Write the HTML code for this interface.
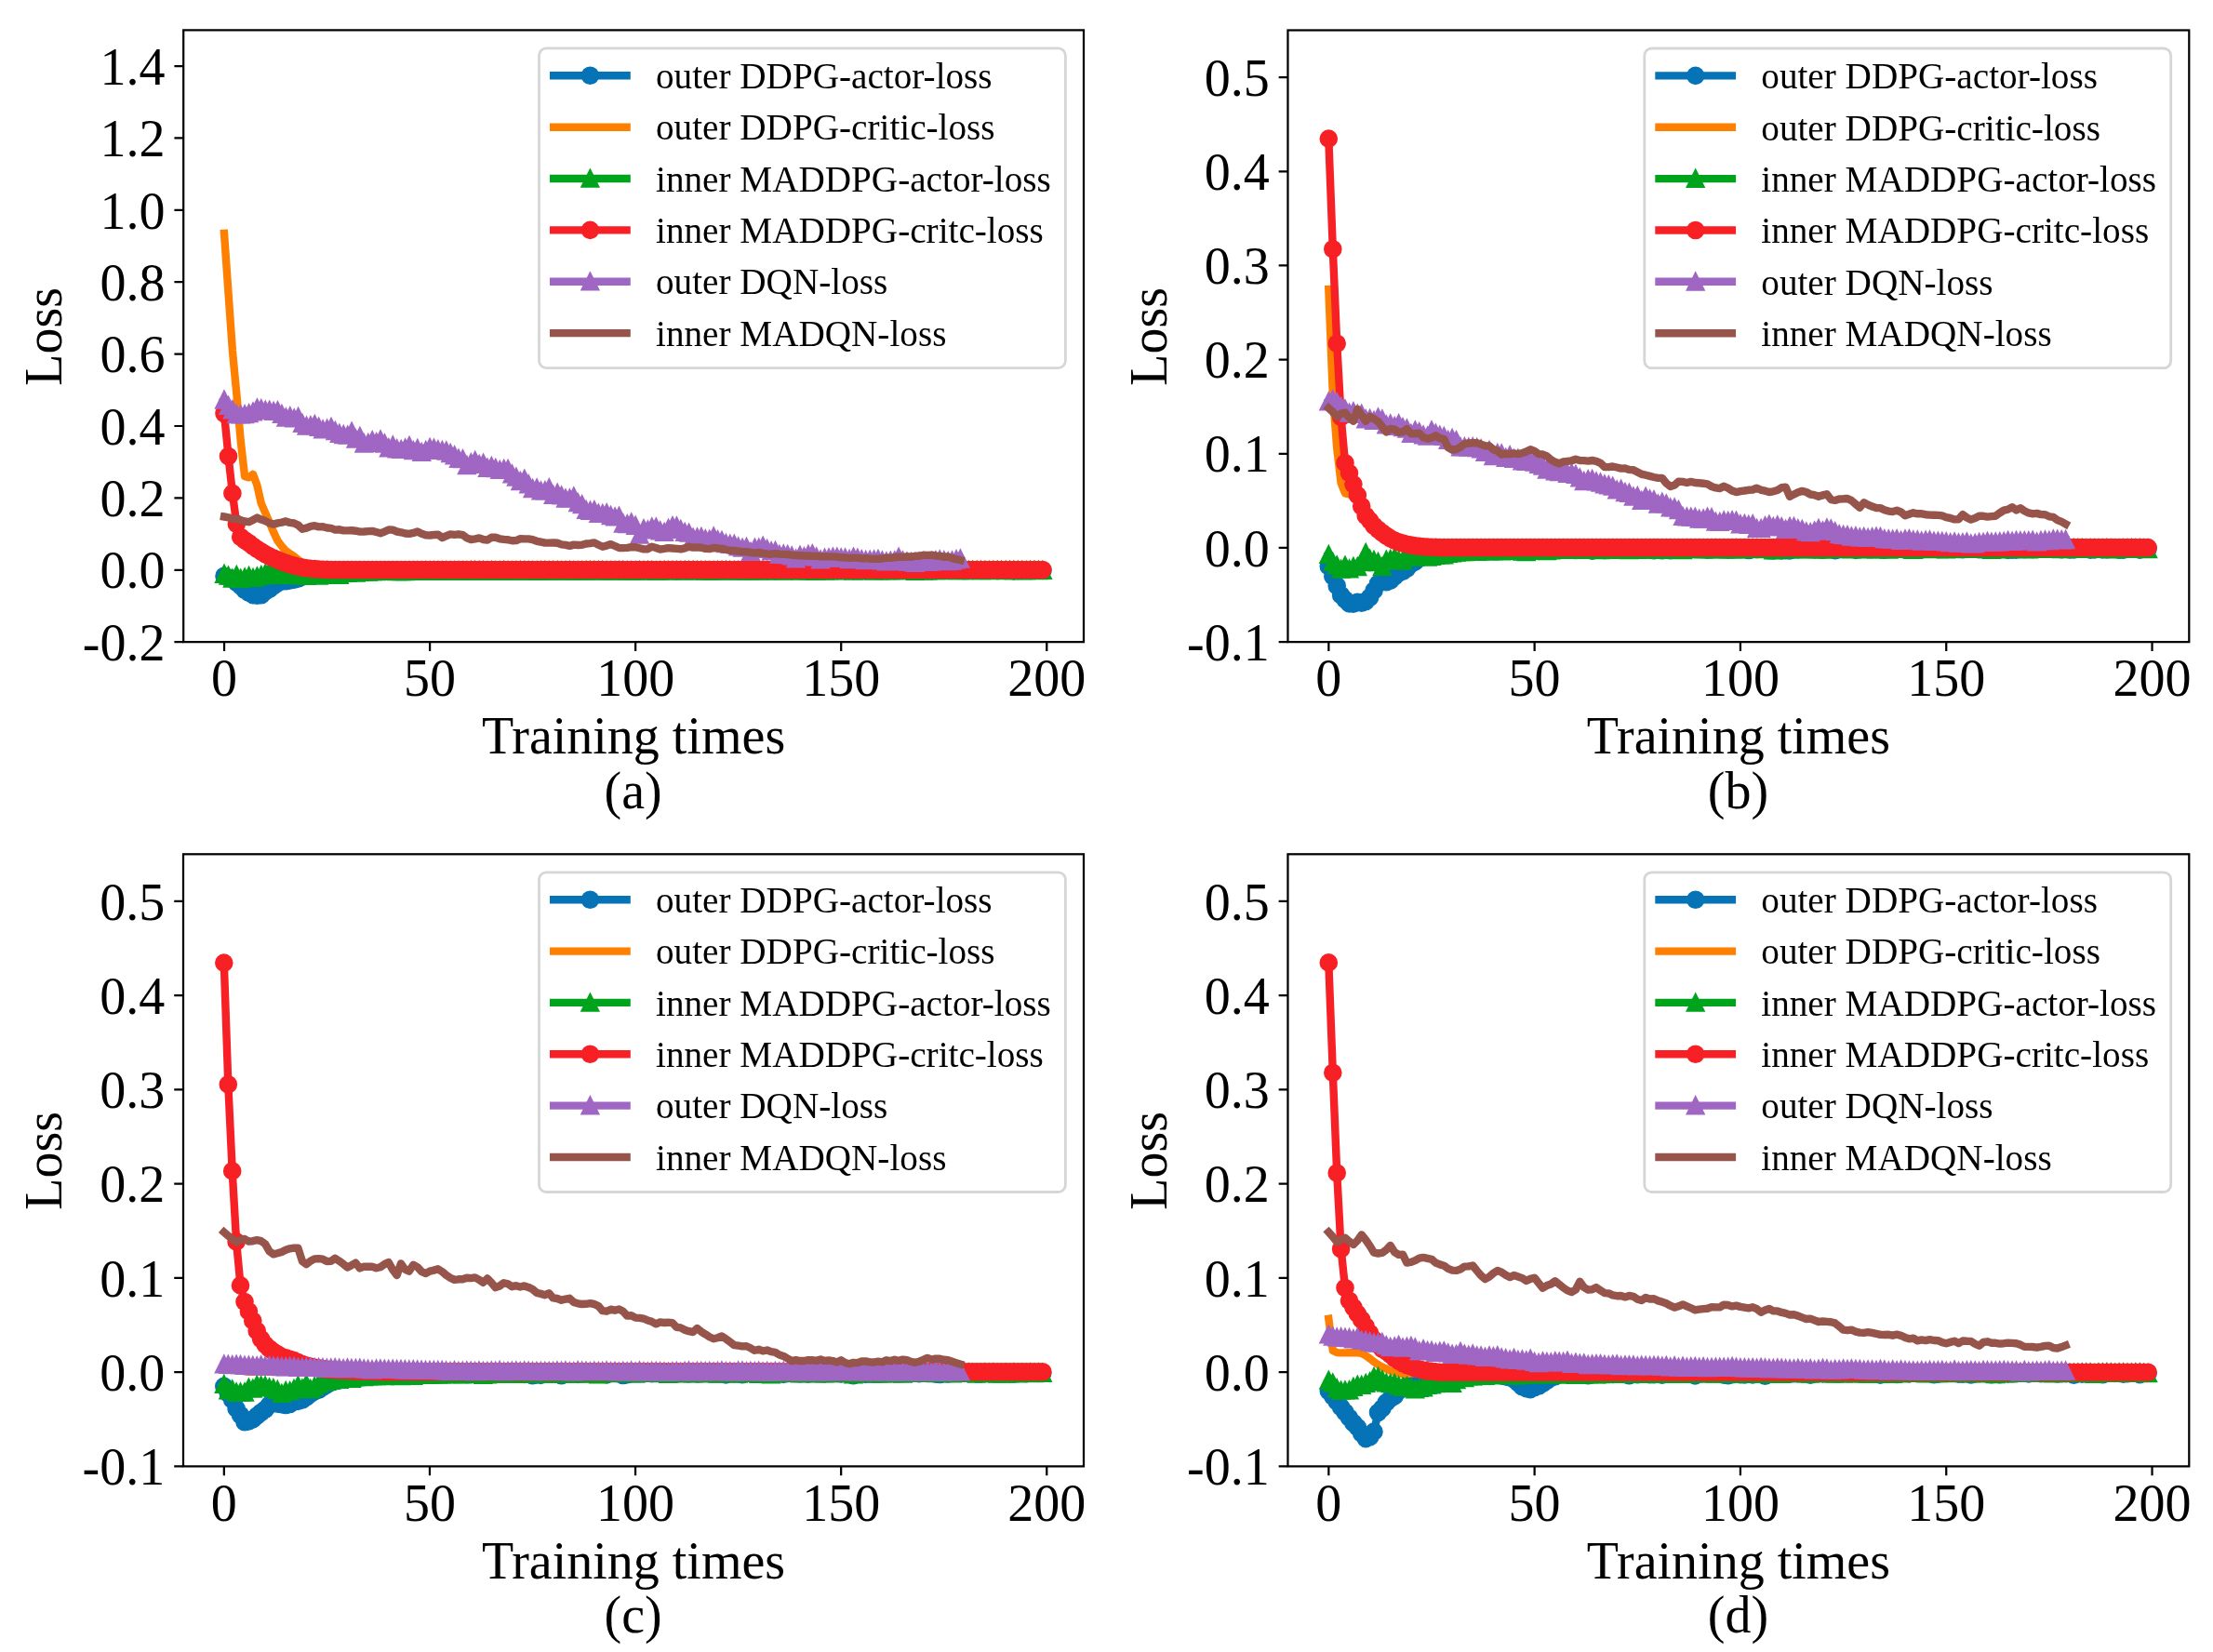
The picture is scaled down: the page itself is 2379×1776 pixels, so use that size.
<!DOCTYPE html>
<html lang="en"><head><meta charset="utf-8"><title>Loss curves</title>
<style>html,body{margin:0;padding:0;background:#fff}body{width:2379px;height:1776px;overflow:hidden}svg{display:block;filter:blur(0.5px)}text{font-family:"Liberation Serif",serif;fill:#000}</style></head><body>
<svg width="2379" height="1776" viewBox="0 0 2379 1776">
<rect width="2379" height="1776" fill="#fff"/>
<defs>
<marker id="m-blue" markerUnits="userSpaceOnUse" markerWidth="30" markerHeight="30" refX="15" refY="15" overflow="visible"><circle cx="15" cy="15" r="8.40" fill="#0573b6" stroke="#0573b6" stroke-width="2.80"/></marker>
<marker id="m-green" markerUnits="userSpaceOnUse" markerWidth="30" markerHeight="30" refX="15" refY="15" overflow="visible"><polygon points="15,6.60 6.60,23.40 23.40,23.40" fill="#00a41c" stroke="#00a41c" stroke-width="2.80" stroke-linejoin="miter"/></marker>
<marker id="m-red" markerUnits="userSpaceOnUse" markerWidth="30" markerHeight="30" refX="15" refY="15" overflow="visible"><circle cx="15" cy="15" r="8.40" fill="#f72024" stroke="#f72024" stroke-width="2.80"/></marker>
<marker id="m-purple" markerUnits="userSpaceOnUse" markerWidth="30" markerHeight="30" refX="15" refY="15" overflow="visible"><polygon points="15,6.60 6.60,23.40 23.40,23.40" fill="#a066c3" stroke="#a066c3" stroke-width="2.80" stroke-linejoin="miter"/></marker>
</defs>
<g id="panel-a">
<polyline points="241.0,619.2 245.5,621.1 249.9,622.4 254.3,626.3 258.7,629.7 263.1,634.3 267.6,637.3 272.0,639.6 276.4,640.3 280.8,639.8 285.3,635.9 289.7,633.3 294.1,629.7 298.5,626.9 302.9,624.9 307.4,624.7 311.8,623.9 316.2,623.3 320.6,622.0 325.0,620.1 329.5,618.2 333.9,617.1 338.3,616.7 342.7,616.3 347.1,615.7 351.6,615.8 356.0,615.4 360.4,615.3 364.8,614.9 369.3,614.5 373.7,614.5 378.1,614.3 382.5,614.3 386.9,614.3 391.4,614.2 395.8,613.9 400.2,614.1 404.6,613.8 409.0,614.0 413.5,613.8 417.9,613.6 422.3,613.7 426.7,613.7 431.2,613.9 435.6,613.5 440.0,613.7 444.4,613.6 448.8,614.0 453.3,613.5 457.7,613.6 462.1,613.6 466.5,613.6 470.9,613.8 475.4,613.6 479.8,613.6 484.2,613.6 488.6,613.7 493.0,613.7 497.5,613.6 501.9,613.7 506.3,613.7 510.7,613.8 515.2,613.6 519.6,613.5 524.0,613.6 528.4,613.5 532.8,613.7 537.3,613.8 541.7,613.9 546.1,613.8 550.5,613.8 554.9,613.6 559.4,613.5 563.8,613.6 568.2,613.5 572.6,613.9 577.1,613.5 581.5,613.6 585.9,613.5 590.3,613.6 594.7,613.5 599.2,613.5 603.6,613.5 608.0,613.5 612.4,613.5 616.8,613.5 621.3,613.6 625.7,613.5 630.1,613.5 634.5,613.7 638.9,613.7 643.4,613.5 647.8,613.5 652.2,613.5 656.6,613.5 661.1,613.4 665.5,613.5 669.9,613.4 674.3,613.5 678.7,613.5 683.2,613.5 687.6,613.6 692.0,613.5 696.4,613.5 700.8,613.6 705.3,613.4 709.7,613.5 714.1,613.6 718.5,613.4 723.0,613.4 727.4,613.7 731.8,613.4 736.2,613.5 740.6,613.5 745.1,613.4 749.5,613.6 753.9,613.4 758.3,613.7 762.7,613.6 767.2,613.4 771.6,613.4 776.0,613.5 780.4,613.6 784.8,613.8 789.3,613.7 793.7,613.6 798.1,613.7 802.5,613.4 807.0,613.6 811.4,613.5 815.8,613.4 820.2,613.4 824.6,613.6 829.1,613.4 833.5,613.5 837.9,613.4 842.3,613.4 846.7,613.5 851.2,613.5 855.6,613.3 860.0,613.3 864.4,613.3 868.9,613.5 873.3,613.4 877.7,613.4 882.1,613.3 886.5,613.3 891.0,613.4 895.4,613.3 899.8,613.4 904.2,613.3 908.6,613.8 913.1,613.5 917.5,613.7 921.9,613.4 926.3,613.3 930.7,613.3 935.2,613.3 939.6,613.3 944.0,613.5 948.4,613.4 952.9,613.5 957.3,613.3 961.7,613.3 966.1,613.3 970.5,613.3 975.0,613.4 979.4,613.3 983.8,613.7 988.2,613.6 992.6,613.4 997.1,613.4 1001.5,613.7 1005.9,613.3 1010.3,613.2 1014.8,613.3 1019.2,613.5 1023.6,613.3 1028.0,613.3 1032.4,613.3 1036.9,613.5 1041.3,613.3 1045.7,613.3 1050.1,613.5 1054.5,613.2 1059.0,613.3 1063.4,613.3 1067.8,613.2 1072.2,613.2 1076.6,613.2 1081.1,613.4 1085.5,613.3 1089.9,613.6 1094.3,613.4 1098.8,613.3 1103.2,613.5 1107.6,613.3 1112.0,613.2 1116.4,613.3 1120.9,613.4" fill="none" stroke="#0573b6" stroke-width="8.40" stroke-linecap="square" stroke-linejoin="round" marker-start="url(#m-blue)" marker-mid="url(#m-blue)" marker-end="url(#m-blue)"/>
<polyline points="241.0,251.0 245.5,314.8 249.9,376.8 254.3,423.2 258.7,473.5 263.1,512.2 267.6,513.3 272.0,509.8 276.4,521.8 280.8,541.2 285.3,551.6 289.7,561.7 294.1,572.1 298.5,581.4 302.9,587.2 307.4,592.3 311.8,595.4 316.2,598.1 320.6,601.9 325.0,605.4 329.5,608.1 333.9,609.7 338.3,610.8 342.7,611.6 347.1,612.0 351.6,612.4 356.0,612.7 360.4,612.7 364.8,612.7 369.3,612.7 373.7,612.7 378.1,612.7 382.5,612.7 386.9,612.7 391.4,612.7 395.8,612.7 400.2,612.7 404.6,612.7 409.0,612.7 413.5,612.7 417.9,612.7 422.3,612.7 426.7,612.7 431.2,612.7 435.6,612.7 440.0,612.7 444.4,612.7 448.8,612.7 453.3,612.7 457.7,612.7 462.1,612.7 466.5,612.7 470.9,612.7 475.4,612.7 479.8,612.7 484.2,612.7 488.6,612.7 493.0,612.7 497.5,612.7 501.9,612.7 506.3,612.7 510.7,612.7 515.2,612.7 519.6,612.7 524.0,612.7 528.4,612.7 532.8,612.7 537.3,612.7 541.7,612.7 546.1,612.7 550.5,612.7 554.9,612.7 559.4,612.7 563.8,612.7 568.2,612.7 572.6,612.7 577.1,612.7 581.5,612.7 585.9,612.7 590.3,612.7 594.7,612.7 599.2,612.7 603.6,612.7 608.0,612.7 612.4,612.7 616.8,612.7 621.3,612.7 625.7,612.7 630.1,612.7 634.5,612.7 638.9,612.7 643.4,612.7 647.8,612.7 652.2,612.7 656.6,612.7 661.1,612.7 665.5,612.7 669.9,612.7 674.3,612.7 678.7,612.7 683.2,612.7 687.6,612.7 692.0,612.7 696.4,612.7 700.8,612.7 705.3,612.7 709.7,612.7 714.1,612.7 718.5,612.7 723.0,612.7 727.4,612.7 731.8,612.7 736.2,612.7 740.6,612.7 745.1,612.7 749.5,612.7 753.9,612.7 758.3,612.7 762.7,612.7 767.2,612.7 771.6,612.7 776.0,612.7 780.4,612.7 784.8,612.7 789.3,612.7 793.7,612.7 798.1,612.7 802.5,612.7 807.0,612.7 811.4,612.7 815.8,612.7 820.2,612.7 824.6,612.7 829.1,612.7 833.5,612.7 837.9,612.7 842.3,612.7 846.7,612.7 851.2,612.7 855.6,612.7 860.0,612.7 864.4,612.7 868.9,612.7 873.3,612.7 877.7,612.7 882.1,612.7 886.5,612.7 891.0,612.7 895.4,612.7 899.8,612.7 904.2,612.7 908.6,612.7 913.1,612.7 917.5,612.7 921.9,612.7 926.3,612.7 930.7,612.7 935.2,612.7 939.6,612.7 944.0,612.7 948.4,612.7 952.9,612.7 957.3,612.7 961.7,612.7 966.1,612.7 970.5,612.7 975.0,612.7 979.4,612.7 983.8,612.7 988.2,612.7 992.6,612.7 997.1,612.7 1001.5,612.7 1005.9,612.7 1010.3,612.7 1014.8,612.7 1019.2,612.7 1023.6,612.7 1028.0,612.7 1032.4,612.7 1036.9,612.7 1041.3,612.7 1045.7,612.7 1050.1,612.7 1054.5,612.7 1059.0,612.7 1063.4,612.7 1067.8,612.7 1072.2,612.7 1076.6,612.7 1081.1,612.7 1085.5,612.7 1089.9,612.7 1094.3,612.7 1098.8,612.7 1103.2,612.7 1107.6,612.7 1112.0,612.7 1116.4,612.7 1120.9,612.7" fill="none" stroke="#ff7f00" stroke-width="8.40" stroke-linecap="square" stroke-linejoin="round"/>
<polyline points="241.0,617.1 245.5,619.0 249.9,622.0 254.3,618.2 258.7,622.1 263.1,620.9 267.6,619.2 272.0,621.2 276.4,619.8 280.8,618.5 285.3,616.6 289.7,614.5 294.1,617.0 298.5,618.5 302.9,616.8 307.4,618.3 311.8,617.8 316.2,616.5 320.6,618.8 325.0,618.0 329.5,619.1 333.9,618.3 338.3,617.9 342.7,619.0 347.1,618.0 351.6,617.6 356.0,617.8 360.4,618.1 364.8,618.1 369.3,616.3 373.7,615.9 378.1,615.1 382.5,615.9 386.9,615.1 391.4,614.7 395.8,614.9 400.2,614.4 404.6,614.5 409.0,614.3 413.5,614.3 417.9,614.3 422.3,614.3 426.7,614.5 431.2,614.5 435.6,614.4 440.0,614.1 444.4,614.1 448.8,614.0 453.3,614.1 457.7,613.9 462.1,614.1 466.5,613.9 470.9,613.9 475.4,613.8 479.8,613.8 484.2,614.0 488.6,613.8 493.0,613.7 497.5,613.7 501.9,614.0 506.3,613.6 510.7,613.6 515.2,613.5 519.6,613.6 524.0,614.0 528.4,613.5 532.8,613.7 537.3,613.8 541.7,613.6 546.1,613.7 550.5,613.7 554.9,613.7 559.4,613.6 563.8,613.5 568.2,613.7 572.6,613.8 577.1,614.1 581.5,613.5 585.9,613.6 590.3,613.9 594.7,613.5 599.2,613.5 603.6,613.7 608.0,613.7 612.4,613.6 616.8,613.8 621.3,613.8 625.7,613.7 630.1,613.6 634.5,613.5 638.9,613.5 643.4,613.6 647.8,613.5 652.2,613.7 656.6,613.8 661.1,613.7 665.5,613.5 669.9,613.5 674.3,613.7 678.7,613.9 683.2,613.7 687.6,613.5 692.0,613.7 696.4,613.5 700.8,613.5 705.3,614.0 709.7,613.8 714.1,613.5 718.5,613.6 723.0,613.5 727.4,613.5 731.8,613.5 736.2,613.6 740.6,613.5 745.1,613.4 749.5,613.5 753.9,613.5 758.3,613.6 762.7,613.9 767.2,613.7 771.6,613.6 776.0,613.5 780.4,613.4 784.8,613.5 789.3,613.5 793.7,613.6 798.1,613.5 802.5,613.6 807.0,613.6 811.4,613.7 815.8,613.4 820.2,613.4 824.6,613.6 829.1,613.5 833.5,613.4 837.9,613.5 842.3,613.6 846.7,613.5 851.2,613.4 855.6,613.3 860.0,613.6 864.4,613.4 868.9,613.6 873.3,613.7 877.7,614.0 882.1,613.5 886.5,613.7 891.0,613.4 895.4,613.4 899.8,613.4 904.2,613.4 908.6,613.3 913.1,613.3 917.5,613.7 921.9,613.4 926.3,613.4 930.7,613.5 935.2,613.3 939.6,613.6 944.0,613.4 948.4,613.5 952.9,613.5 957.3,613.4 961.7,613.5 966.1,613.3 970.5,613.4 975.0,613.3 979.4,613.3 983.8,614.1 988.2,613.4 992.6,613.6 997.1,613.6 1001.5,613.3 1005.9,613.4 1010.3,613.3 1014.8,613.4 1019.2,613.3 1023.6,613.3 1028.0,613.3 1032.4,613.5 1036.9,613.5 1041.3,613.3 1045.7,613.3 1050.1,613.3 1054.5,613.4 1059.0,613.3 1063.4,613.5 1067.8,613.3 1072.2,613.3 1076.6,613.3 1081.1,613.4 1085.5,613.3 1089.9,613.4 1094.3,613.3 1098.8,613.4 1103.2,613.5 1107.6,613.2 1112.0,613.3 1116.4,613.4 1120.9,613.2" fill="none" stroke="#00a41c" stroke-width="8.40" stroke-linecap="square" stroke-linejoin="round" marker-start="url(#m-green)" marker-mid="url(#m-green)" marker-end="url(#m-green)"/>
<polyline points="241.0,444.5 245.5,490.5 249.9,530.4 254.3,563.2 258.7,577.2 263.1,580.7 267.6,583.7 272.0,587.2 276.4,590.3 280.8,593.0 285.3,595.7 289.7,598.1 294.1,600.0 298.5,601.9 302.9,603.9 307.4,605.4 311.8,607.0 316.2,608.1 320.6,609.3 325.0,610.1 329.5,610.8 333.9,611.2 338.3,611.6 342.7,612.0 347.1,612.2 351.6,612.4 356.0,612.5 360.4,612.5 364.8,612.5 369.3,612.5 373.7,612.5 378.1,612.5 382.5,612.5 386.9,612.5 391.4,612.5 395.8,612.5 400.2,612.5 404.6,612.5 409.0,612.5 413.5,612.5 417.9,612.5 422.3,612.5 426.7,612.5 431.2,612.5 435.6,612.5 440.0,612.5 444.4,612.5 448.8,612.5 453.3,612.5 457.7,612.5 462.1,612.5 466.5,612.5 470.9,612.5 475.4,612.5 479.8,612.5 484.2,612.5 488.6,612.5 493.0,612.5 497.5,612.5 501.9,612.5 506.3,612.5 510.7,612.5 515.2,612.5 519.6,612.5 524.0,612.5 528.4,612.5 532.8,612.5 537.3,612.5 541.7,612.5 546.1,612.5 550.5,612.5 554.9,612.5 559.4,612.5 563.8,612.5 568.2,612.5 572.6,612.5 577.1,612.5 581.5,612.5 585.9,612.5 590.3,612.5 594.7,612.5 599.2,612.5 603.6,612.5 608.0,612.5 612.4,612.5 616.8,612.5 621.3,612.5 625.7,612.5 630.1,612.5 634.5,612.5 638.9,612.5 643.4,612.5 647.8,612.5 652.2,612.5 656.6,612.5 661.1,612.5 665.5,612.5 669.9,612.5 674.3,612.5 678.7,612.5 683.2,612.5 687.6,612.5 692.0,612.5 696.4,612.5 700.8,612.5 705.3,612.5 709.7,612.5 714.1,612.5 718.5,612.5 723.0,612.5 727.4,612.5 731.8,612.5 736.2,612.5 740.6,612.5 745.1,612.5 749.5,612.5 753.9,612.5 758.3,612.5 762.7,612.5 767.2,612.5 771.6,612.5 776.0,612.5 780.4,612.5 784.8,612.5 789.3,612.5 793.7,612.5 798.1,612.5 802.5,612.5 807.0,612.5 811.4,612.5 815.8,612.5 820.2,612.5 824.6,612.5 829.1,612.5 833.5,612.5 837.9,612.5 842.3,612.5 846.7,612.5 851.2,612.5 855.6,612.5 860.0,612.5 864.4,612.5 868.9,612.5 873.3,612.5 877.7,612.5 882.1,612.5 886.5,612.5 891.0,612.5 895.4,612.5 899.8,612.5 904.2,612.5 908.6,612.5 913.1,612.5 917.5,612.5 921.9,612.5 926.3,612.5 930.7,612.5 935.2,612.5 939.6,612.5 944.0,612.5 948.4,612.5 952.9,612.5 957.3,612.5 961.7,612.5 966.1,612.5 970.5,612.5 975.0,612.5 979.4,612.5 983.8,612.5 988.2,612.5 992.6,612.5 997.1,612.5 1001.5,612.5 1005.9,612.5 1010.3,612.5 1014.8,612.5 1019.2,612.5 1023.6,612.5 1028.0,612.5 1032.4,612.5 1036.9,612.5 1041.3,612.5 1045.7,612.5 1050.1,612.5 1054.5,612.5 1059.0,612.5 1063.4,612.5 1067.8,612.5 1072.2,612.5 1076.6,612.5 1081.1,612.5 1085.5,612.5 1089.9,612.5 1094.3,612.5 1098.8,612.5 1103.2,612.5 1107.6,612.5 1112.0,612.5 1116.4,612.5 1120.9,612.5" fill="none" stroke="#f72024" stroke-width="8.40" stroke-linecap="square" stroke-linejoin="round" marker-start="url(#m-red)" marker-mid="url(#m-red)" marker-end="url(#m-red)"/>
<polyline points="241.0,429.9 245.5,436.3 249.9,440.6 254.3,445.4 258.7,445.8 263.1,445.5 267.6,444.5 272.0,442.8 276.4,438.8 280.8,439.6 285.3,441.0 289.7,441.0 294.1,442.2 298.5,441.5 302.9,445.2 307.4,448.9 311.8,447.6 316.2,449.8 320.6,448.3 325.0,455.2 329.5,458.0 333.9,457.5 338.3,456.2 342.7,459.1 347.1,461.8 351.6,461.1 356.0,459.3 360.4,463.4 364.8,466.1 369.3,467.4 373.7,468.0 378.1,464.0 382.5,472.0 386.9,469.3 391.4,476.9 395.8,476.3 400.2,473.5 404.6,475.5 409.0,472.7 413.5,476.9 417.9,481.6 422.3,478.9 426.7,482.6 431.2,483.2 435.6,481.7 440.0,479.2 444.4,484.5 448.8,482.3 453.3,486.2 457.7,484.3 462.1,481.3 466.5,482.1 470.9,483.6 475.4,484.3 479.8,484.9 484.2,487.4 488.6,489.6 493.0,493.1 497.5,493.5 501.9,500.4 506.3,497.6 510.7,495.3 515.2,499.3 519.6,498.1 524.0,503.1 528.4,501.3 532.8,503.4 537.3,505.2 541.7,504.2 546.1,504.4 550.5,509.7 554.9,513.0 559.4,517.4 563.8,515.0 568.2,520.6 572.6,525.4 577.1,524.7 581.5,527.7 585.9,527.6 590.3,524.5 594.7,532.3 599.2,530.1 603.6,532.8 608.0,535.9 612.4,535.8 616.8,533.7 621.3,540.5 625.7,542.5 630.1,548.3 634.5,549.1 638.9,548.6 643.4,552.1 647.8,552.2 652.2,551.6 656.6,554.4 661.1,555.7 665.5,555.1 669.9,562.9 674.3,563.5 678.7,561.8 683.2,565.1 687.6,574.9 692.0,568.5 696.4,569.8 700.8,566.7 705.3,566.7 709.7,570.6 714.1,572.3 718.5,568.2 723.0,565.5 727.4,565.8 731.8,569.4 736.2,572.3 740.6,573.0 745.1,578.0 749.5,577.8 753.9,577.4 758.3,579.6 762.7,580.0 767.2,576.7 771.6,580.5 776.0,581.4 780.4,584.4 784.8,585.1 789.3,585.0 793.7,587.7 798.1,589.0 802.5,588.3 807.0,593.3 811.4,589.1 815.8,589.0 820.2,587.1 824.6,590.3 829.1,592.6 833.5,592.2 837.9,596.3 842.3,595.9 846.7,596.4 851.2,597.8 855.6,600.7 860.0,597.0 864.4,598.5 868.9,596.4 873.3,595.5 877.7,598.7 882.1,601.8 886.5,600.0 891.0,599.8 895.4,599.1 899.8,599.1 904.2,599.9 908.6,599.9 913.1,601.4 917.5,599.0 921.9,600.0 926.3,601.5 930.7,602.4 935.2,602.1 939.6,601.7 944.0,601.4 948.4,602.7 952.9,603.8 957.3,603.1 961.7,602.7 966.1,599.0 970.5,602.8 975.0,603.9 979.4,604.2 983.8,605.3 988.2,603.8 992.6,603.8 997.1,604.2 1001.5,603.6 1005.9,602.5 1010.3,601.8 1014.8,602.6 1019.2,603.5 1023.6,602.9 1028.0,601.6 1032.4,600.9" fill="none" stroke="#a066c3" stroke-width="8.40" stroke-linecap="square" stroke-linejoin="round" marker-start="url(#m-purple)" marker-mid="url(#m-purple)" marker-end="url(#m-purple)"/>
<polyline points="241.0,555.5 245.5,556.3 249.9,557.6 254.3,557.9 258.7,559.2 263.1,560.5 267.6,561.2 272.0,559.0 276.4,556.6 280.8,558.6 285.3,560.1 289.7,562.4 294.1,563.6 298.5,562.4 302.9,561.6 307.4,560.4 311.8,561.9 316.2,562.5 320.6,564.6 325.0,568.8 329.5,567.6 333.9,565.8 338.3,565.2 342.7,566.4 347.1,566.2 351.6,567.5 356.0,567.9 360.4,569.6 364.8,569.3 369.3,570.4 373.7,570.4 378.1,570.3 382.5,570.7 386.9,571.6 391.4,571.5 395.8,571.1 400.2,570.9 404.6,572.0 409.0,573.2 413.5,571.6 417.9,569.4 422.3,569.7 426.7,571.5 431.2,572.3 435.6,573.5 440.0,573.9 444.4,572.9 448.8,571.4 453.3,573.7 457.7,575.2 462.1,575.5 466.5,575.0 470.9,574.7 475.4,578.0 479.8,576.2 484.2,574.4 488.6,574.9 493.0,574.3 497.5,575.2 501.9,578.4 506.3,580.0 510.7,579.3 515.2,578.4 519.6,580.0 524.0,580.6 528.4,577.7 532.8,577.8 537.3,579.3 541.7,579.9 546.1,580.2 550.5,581.3 554.9,581.1 559.4,579.1 563.8,579.4 568.2,579.4 572.6,580.1 577.1,581.8 581.5,582.7 585.9,583.6 590.3,583.6 594.7,583.5 599.2,583.8 603.6,585.4 608.0,585.9 612.4,586.9 616.8,585.6 621.3,586.0 625.7,585.8 630.1,584.5 634.5,584.1 638.9,583.4 643.4,585.8 647.8,587.8 652.2,586.6 656.6,585.1 661.1,587.0 665.5,589.0 669.9,589.1 674.3,588.9 678.7,588.1 683.2,588.2 687.6,589.3 692.0,590.4 696.4,590.2 700.8,587.7 705.3,589.0 709.7,590.6 714.1,589.9 718.5,589.1 723.0,589.5 727.4,589.9 731.8,590.3 736.2,589.3 740.6,587.8 745.1,588.6 749.5,588.4 753.9,588.8 758.3,589.9 762.7,590.1 767.2,589.0 771.6,589.4 776.0,589.7 780.4,591.0 784.8,591.9 789.3,592.0 793.7,592.7 798.1,593.0 802.5,593.2 807.0,594.0 811.4,594.6 815.8,594.0 820.2,594.8 824.6,595.4 829.1,595.7 833.5,595.2 837.9,595.7 842.3,595.9 846.7,596.0 851.2,596.7 855.6,597.0 860.0,597.2 864.4,597.5 868.9,597.5 873.3,597.9 877.7,597.8 882.1,598.2 886.5,598.4 891.0,598.4 895.4,598.4 899.8,598.6 904.2,599.3 908.6,599.4 913.1,599.9 917.5,599.6 921.9,599.6 926.3,600.4 930.7,600.2 935.2,600.7 939.6,600.9 944.0,600.9 948.4,600.5 952.9,599.6 957.3,599.8 961.7,599.2 966.1,598.8 970.5,598.9 975.0,598.3 979.4,598.7 983.8,597.8 988.2,597.7 992.6,596.8 997.1,596.9 1001.5,596.7 1005.9,597.5 1010.3,597.8 1014.8,598.7 1019.2,598.5 1023.6,600.2 1028.0,601.1 1032.4,602.1" fill="none" stroke="#96544a" stroke-width="8.40" stroke-linecap="square" stroke-linejoin="round"/>
<rect x="197.20" y="32.40" width="967.80" height="657.75" fill="none" stroke="#000" stroke-width="2.24"/>
<path d="M241.04 690.15v9.80M462.10 690.15v9.80M683.16 690.15v9.80M904.22 690.15v9.80M1125.28 690.15v9.80M197.20 690.15h-9.80M197.20 612.77h-9.80M197.20 535.39h-9.80M197.20 458.00h-9.80M197.20 380.62h-9.80M197.20 303.24h-9.80M197.20 225.86h-9.80M197.20 148.47h-9.80M197.20 71.09h-9.80" stroke="#000" stroke-width="2.24" fill="none"/>
<g font-size="56" text-anchor="middle">
<text x="241.0" y="748.4">0</text>
<text x="462.1" y="748.4">50</text>
<text x="683.2" y="748.4">100</text>
<text x="904.2" y="748.4">150</text>
<text x="1125.3" y="748.4">200</text>
</g>
<g font-size="56" text-anchor="end">
<text x="177.4" y="709.8">-0.2</text>
<text x="177.4" y="632.4">0.0</text>
<text x="177.4" y="555.0">0.2</text>
<text x="177.4" y="477.6">0.4</text>
<text x="177.4" y="400.2">0.6</text>
<text x="177.4" y="322.8">0.8</text>
<text x="177.4" y="245.5">1.0</text>
<text x="177.4" y="168.1">1.2</text>
<text x="177.4" y="90.7">1.4</text>
</g>
<text x="681.1" y="810.4" font-size="56" text-anchor="middle">Training times</text>
<text x="680.7" y="868.5" font-size="56" text-anchor="middle">(a)</text>
<text transform="translate(65.8 361.8) rotate(-90)" font-size="56" text-anchor="middle">Loss</text>
<rect x="579.5" y="51.9" width="565.9" height="343.7" rx="7.8" ry="7.8" fill="#fff" fill-opacity="0.8" stroke="#ccc" stroke-opacity="0.8" stroke-width="2.80"/>
<line x1="595.2" y1="81.3" x2="673.6" y2="81.3" stroke="#0573b6" stroke-width="8.40" stroke-linecap="square"/>
<circle cx="634.4" cy="81.3" r="8.40" fill="#0573b6" stroke="#0573b6" stroke-width="2.80"/>
<text x="705.0" y="95.0" font-size="39.2">outer DDPG-actor-loss</text>
<line x1="595.2" y1="136.7" x2="673.6" y2="136.7" stroke="#ff7f00" stroke-width="8.40" stroke-linecap="square"/>
<text x="705.0" y="150.4" font-size="39.2">outer DDPG-critic-loss</text>
<line x1="595.2" y1="192.0" x2="673.6" y2="192.0" stroke="#00a41c" stroke-width="8.40" stroke-linecap="square"/>
<polygon points="634.40,183.62 626.00,200.42 642.80,200.42" fill="#00a41c" stroke="#00a41c" stroke-width="2.80"/>
<text x="705.0" y="205.7" font-size="39.2">inner MADDPG-actor-loss</text>
<line x1="595.2" y1="247.4" x2="673.6" y2="247.4" stroke="#f72024" stroke-width="8.40" stroke-linecap="square"/>
<circle cx="634.4" cy="247.4" r="8.40" fill="#f72024" stroke="#f72024" stroke-width="2.80"/>
<text x="705.0" y="261.1" font-size="39.2">inner MADDPG-critc-loss</text>
<line x1="595.2" y1="302.7" x2="673.6" y2="302.7" stroke="#a066c3" stroke-width="8.40" stroke-linecap="square"/>
<polygon points="634.40,294.34 626.00,311.14 642.80,311.14" fill="#a066c3" stroke="#a066c3" stroke-width="2.80"/>
<text x="705.0" y="316.4" font-size="39.2">outer DQN-loss</text>
<line x1="595.2" y1="358.1" x2="673.6" y2="358.1" stroke="#96544a" stroke-width="8.40" stroke-linecap="square"/>
<text x="705.0" y="371.8" font-size="39.2">inner MADQN-loss</text>
</g>
<g id="panel-b">
<polyline points="1428.3,608.8 1432.8,619.6 1437.2,629.8 1441.6,639.7 1446.0,644.6 1450.5,648.9 1454.9,649.1 1459.3,647.4 1463.7,648.3 1468.2,646.5 1472.6,642.3 1477.0,634.9 1481.5,627.4 1485.9,624.9 1490.3,625.8 1494.7,624.1 1499.2,619.7 1503.6,616.0 1508.0,614.3 1512.4,611.3 1516.9,606.2 1521.3,603.8 1525.7,600.3 1530.1,596.8 1534.6,596.2 1539.0,595.3 1543.4,593.1 1547.8,594.5 1552.3,593.6 1556.7,593.7 1561.1,592.9 1565.5,592.9 1570.0,592.2 1574.4,592.1 1578.8,591.4 1583.2,591.1 1587.7,591.3 1592.1,592.4 1596.5,592.5 1601.0,592.2 1605.4,591.0 1609.8,592.1 1614.2,590.8 1618.7,590.7 1623.1,591.7 1627.5,591.7 1631.9,590.7 1636.4,590.5 1640.8,592.2 1645.2,591.6 1649.6,590.9 1654.1,591.0 1658.5,591.4 1662.9,590.7 1667.3,590.5 1671.8,590.2 1676.2,591.3 1680.6,590.8 1685.0,590.0 1689.5,590.3 1693.9,591.5 1698.3,591.2 1702.8,590.6 1707.2,589.9 1711.6,592.1 1716.0,590.7 1720.5,590.3 1724.9,591.5 1729.3,590.9 1733.7,590.2 1738.2,590.3 1742.6,590.2 1747.0,590.4 1751.4,590.1 1755.9,591.2 1760.3,590.8 1764.7,590.4 1769.1,590.5 1773.6,590.5 1778.0,591.8 1782.4,590.5 1786.8,591.7 1791.3,590.7 1795.7,591.7 1800.1,590.9 1804.5,590.5 1809.0,590.2 1813.4,590.6 1817.8,590.6 1822.3,589.8 1826.7,590.3 1831.1,590.0 1835.5,591.1 1840.0,590.7 1844.4,589.8 1848.8,590.0 1853.2,590.6 1857.7,591.1 1862.1,590.9 1866.5,590.1 1870.9,590.6 1875.4,589.7 1879.8,591.5 1884.2,590.4 1888.6,590.5 1893.1,589.7 1897.5,589.7 1901.9,591.6 1906.3,592.0 1910.8,589.7 1915.2,591.7 1919.6,591.8 1924.0,591.9 1928.5,590.6 1932.9,589.9 1937.3,590.3 1941.8,590.2 1946.2,589.7 1950.6,590.4 1955.0,589.8 1959.5,591.3 1963.9,589.8 1968.3,589.8 1972.7,591.6 1977.2,590.8 1981.6,589.6 1986.0,590.1 1990.4,589.7 1994.9,591.4 1999.3,590.0 2003.7,590.1 2008.1,589.7 2012.6,590.4 2017.0,590.7 2021.4,589.9 2025.8,591.2 2030.3,590.5 2034.7,589.6 2039.1,590.1 2043.6,589.7 2048.0,591.2 2052.4,590.6 2056.8,589.9 2061.3,589.7 2065.7,591.0 2070.1,590.3 2074.5,590.1 2079.0,589.8 2083.4,590.1 2087.8,590.1 2092.2,590.5 2096.7,590.3 2101.1,590.1 2105.5,590.5 2109.9,590.8 2114.4,590.4 2118.8,590.1 2123.2,589.9 2127.6,590.8 2132.1,590.6 2136.5,589.6 2140.9,589.9 2145.3,589.6 2149.8,590.2 2154.2,590.2 2158.6,591.4 2163.1,591.2 2167.5,591.2 2171.9,589.5 2176.3,590.5 2180.8,589.9 2185.2,590.5 2189.6,589.9 2194.0,590.0 2198.5,590.2 2202.9,590.2 2207.3,589.7 2211.7,589.6 2216.2,590.7 2220.6,589.6 2225.0,591.0 2229.4,591.0 2233.9,589.6 2238.3,589.6 2242.7,589.5 2247.1,591.1 2251.6,590.9 2256.0,589.4 2260.4,591.0 2264.9,590.6 2269.3,590.2 2273.7,589.5 2278.1,591.2 2282.6,591.2 2287.0,589.8 2291.4,589.4 2295.8,589.8 2300.3,591.1 2304.7,589.6 2309.1,589.8" fill="none" stroke="#0573b6" stroke-width="8.40" stroke-linecap="square" stroke-linejoin="round" marker-start="url(#m-blue)" marker-mid="url(#m-blue)" marker-end="url(#m-blue)"/>
<polyline points="1428.3,311.1 1432.8,424.1 1437.2,481.7 1441.6,519.2 1446.0,530.3 1450.5,531.3 1454.9,532.3 1459.3,537.4 1463.7,545.5 1468.2,554.6 1472.6,561.7 1477.0,566.7 1481.5,570.8 1485.9,574.8 1490.3,577.8 1494.7,580.9 1499.2,582.9 1503.6,584.9 1508.0,585.9 1512.4,586.9 1516.9,588.0 1521.3,588.7 1525.7,588.7 1530.1,588.7 1534.6,588.7 1539.0,588.7 1543.4,588.7 1547.8,588.7 1552.3,588.7 1556.7,588.7 1561.1,588.7 1565.5,588.7 1570.0,588.7 1574.4,588.7 1578.8,588.7 1583.2,588.7 1587.7,588.7 1592.1,588.7 1596.5,588.7 1601.0,588.7 1605.4,588.7 1609.8,588.7 1614.2,588.7 1618.7,588.7 1623.1,588.7 1627.5,588.7 1631.9,588.7 1636.4,588.7 1640.8,588.7 1645.2,588.7 1649.6,588.7 1654.1,588.7 1658.5,588.7 1662.9,588.7 1667.3,588.7 1671.8,588.7 1676.2,588.7 1680.6,588.7 1685.0,588.7 1689.5,588.7 1693.9,588.7 1698.3,588.7 1702.8,588.7 1707.2,588.7 1711.6,588.7 1716.0,588.7 1720.5,588.7 1724.9,588.7 1729.3,588.7 1733.7,588.7 1738.2,588.7 1742.6,588.7 1747.0,588.7 1751.4,588.7 1755.9,588.7 1760.3,588.7 1764.7,588.7 1769.1,588.7 1773.6,588.7 1778.0,588.7 1782.4,588.7 1786.8,588.7 1791.3,588.7 1795.7,588.7 1800.1,588.7 1804.5,588.7 1809.0,588.7 1813.4,588.7 1817.8,588.7 1822.3,588.7 1826.7,588.7 1831.1,588.7 1835.5,588.7 1840.0,588.7 1844.4,588.7 1848.8,588.7 1853.2,588.7 1857.7,588.7 1862.1,588.7 1866.5,588.7 1870.9,588.7 1875.4,588.7 1879.8,588.7 1884.2,588.7 1888.6,588.7 1893.1,588.7 1897.5,588.7 1901.9,588.7 1906.3,588.7 1910.8,588.7 1915.2,588.7 1919.6,588.7 1924.0,588.7 1928.5,588.7 1932.9,588.7 1937.3,588.7 1941.8,588.7 1946.2,588.7 1950.6,588.7 1955.0,588.7 1959.5,588.7 1963.9,588.7 1968.3,588.7 1972.7,588.7 1977.2,588.7 1981.6,588.7 1986.0,588.7 1990.4,588.7 1994.9,588.7 1999.3,588.7 2003.7,588.7 2008.1,588.7 2012.6,588.7 2017.0,588.7 2021.4,588.7 2025.8,588.7 2030.3,588.7 2034.7,588.7 2039.1,588.7 2043.6,588.7 2048.0,588.7 2052.4,588.7 2056.8,588.7 2061.3,588.7 2065.7,588.7 2070.1,588.7 2074.5,588.7 2079.0,588.7 2083.4,588.7 2087.8,588.7 2092.2,588.7 2096.7,588.7 2101.1,588.7 2105.5,588.7 2109.9,588.7 2114.4,588.7 2118.8,588.7 2123.2,588.7 2127.6,588.7 2132.1,588.7 2136.5,588.7 2140.9,588.7 2145.3,588.7 2149.8,588.7 2154.2,588.7 2158.6,588.7 2163.1,588.7 2167.5,588.7 2171.9,588.7 2176.3,588.7 2180.8,588.7 2185.2,588.7 2189.6,588.7 2194.0,588.7 2198.5,588.7 2202.9,588.7 2207.3,588.7 2211.7,588.7 2216.2,588.7 2220.6,588.7 2225.0,588.7 2229.4,588.7 2233.9,588.7 2238.3,588.7 2242.7,588.7 2247.1,588.7 2251.6,588.7 2256.0,588.7 2260.4,588.7 2264.9,588.7 2269.3,588.7 2273.7,588.7 2278.1,588.7 2282.6,588.7 2287.0,588.7 2291.4,588.7 2295.8,588.7 2300.3,588.7 2304.7,588.7 2309.1,588.7" fill="none" stroke="#ff7f00" stroke-width="8.40" stroke-linecap="square" stroke-linejoin="round"/>
<polyline points="1428.3,596.3 1432.8,604.2 1437.2,607.8 1441.6,612.0 1446.0,608.0 1450.5,611.7 1454.9,609.2 1459.3,609.4 1463.7,604.4 1468.2,594.4 1472.6,601.1 1477.0,602.4 1481.5,604.4 1485.9,609.2 1490.3,602.0 1494.7,601.3 1499.2,599.5 1503.6,602.6 1508.0,602.8 1512.4,598.4 1516.9,598.8 1521.3,598.6 1525.7,597.0 1530.1,596.7 1534.6,598.9 1539.0,598.1 1543.4,597.2 1547.8,596.8 1552.3,596.6 1556.7,595.1 1561.1,594.7 1565.5,594.0 1570.0,593.4 1574.4,593.5 1578.8,593.1 1583.2,592.6 1587.7,593.1 1592.1,592.8 1596.5,592.3 1601.0,592.6 1605.4,592.5 1609.8,592.1 1614.2,592.8 1618.7,592.1 1623.1,592.0 1627.5,592.1 1631.9,591.7 1636.4,593.0 1640.8,593.5 1645.2,591.8 1649.6,591.5 1654.1,591.8 1658.5,591.9 1662.9,592.5 1667.3,591.7 1671.8,591.0 1676.2,591.0 1680.6,591.3 1685.0,590.8 1689.5,590.8 1693.9,591.2 1698.3,590.8 1702.8,590.6 1707.2,591.0 1711.6,590.9 1716.0,590.6 1720.5,591.4 1724.9,591.1 1729.3,591.2 1733.7,591.1 1738.2,590.5 1742.6,590.7 1747.0,591.2 1751.4,591.4 1755.9,591.2 1760.3,591.3 1764.7,590.6 1769.1,590.4 1773.6,590.6 1778.0,590.6 1782.4,591.0 1786.8,591.2 1791.3,590.3 1795.7,590.3 1800.1,591.3 1804.5,590.7 1809.0,591.4 1813.4,590.1 1817.8,590.3 1822.3,590.2 1826.7,590.2 1831.1,590.8 1835.5,590.4 1840.0,590.4 1844.4,590.1 1848.8,590.5 1853.2,590.4 1857.7,590.8 1862.1,590.2 1866.5,589.9 1870.9,590.7 1875.4,590.5 1879.8,589.8 1884.2,589.8 1888.6,589.9 1893.1,590.1 1897.5,590.5 1901.9,590.3 1906.3,591.7 1910.8,590.1 1915.2,590.7 1919.6,590.1 1924.0,590.6 1928.5,590.5 1932.9,590.0 1937.3,590.1 1941.8,590.6 1946.2,590.3 1950.6,590.5 1955.0,590.5 1959.5,590.7 1963.9,590.6 1968.3,589.7 1972.7,589.8 1977.2,590.1 1981.6,589.9 1986.0,590.0 1990.4,590.6 1994.9,590.2 1999.3,589.8 2003.7,590.7 2008.1,590.3 2012.6,589.7 2017.0,590.7 2021.4,589.8 2025.8,589.7 2030.3,590.9 2034.7,590.3 2039.1,590.1 2043.6,590.2 2048.0,590.3 2052.4,589.9 2056.8,591.3 2061.3,590.1 2065.7,590.0 2070.1,589.6 2074.5,590.0 2079.0,590.5 2083.4,589.6 2087.8,590.2 2092.2,590.8 2096.7,589.6 2101.1,590.0 2105.5,589.9 2109.9,590.3 2114.4,589.7 2118.8,590.0 2123.2,589.8 2127.6,590.3 2132.1,590.1 2136.5,589.7 2140.9,591.1 2145.3,589.9 2149.8,590.8 2154.2,590.2 2158.6,590.2 2163.1,589.9 2167.5,589.9 2171.9,590.1 2176.3,589.7 2180.8,590.6 2185.2,589.8 2189.6,589.7 2194.0,590.0 2198.5,589.6 2202.9,590.2 2207.3,589.6 2211.7,589.7 2216.2,590.4 2220.6,590.2 2225.0,590.1 2229.4,589.5 2233.9,589.9 2238.3,589.5 2242.7,590.2 2247.1,589.7 2251.6,589.8 2256.0,590.1 2260.4,590.0 2264.9,589.6 2269.3,589.7 2273.7,590.8 2278.1,590.2 2282.6,589.8 2287.0,589.7 2291.4,589.6 2295.8,589.8 2300.3,589.6 2304.7,590.0 2309.1,590.4" fill="none" stroke="#00a41c" stroke-width="8.40" stroke-linecap="square" stroke-linejoin="round" marker-start="url(#m-green)" marker-mid="url(#m-green)" marker-end="url(#m-green)"/>
<polyline points="1428.3,149.1 1432.8,267.7 1437.2,369.2 1441.6,448.3 1446.0,497.7 1450.5,508.6 1454.9,520.6 1459.3,532.4 1463.7,544.3 1468.2,554.5 1472.6,559.6 1477.0,565.2 1481.5,569.2 1485.9,572.8 1490.3,576.0 1494.7,578.9 1499.2,581.1 1503.6,582.9 1508.0,584.1 1512.4,585.2 1516.9,586.1 1521.3,586.9 1525.7,587.4 1530.1,587.8 1534.6,588.0 1539.0,588.2 1543.4,588.4 1547.8,588.6 1552.3,588.6 1556.7,588.6 1561.1,588.6 1565.5,588.6 1570.0,588.6 1574.4,588.6 1578.8,588.6 1583.2,588.6 1587.7,588.6 1592.1,588.6 1596.5,588.6 1601.0,588.6 1605.4,588.6 1609.8,588.6 1614.2,588.6 1618.7,588.6 1623.1,588.6 1627.5,588.6 1631.9,588.6 1636.4,588.6 1640.8,588.6 1645.2,588.6 1649.6,588.6 1654.1,588.6 1658.5,588.6 1662.9,588.6 1667.3,588.6 1671.8,588.6 1676.2,588.6 1680.6,588.6 1685.0,588.6 1689.5,588.6 1693.9,588.6 1698.3,588.6 1702.8,588.6 1707.2,588.6 1711.6,588.6 1716.0,588.6 1720.5,588.6 1724.9,588.6 1729.3,588.6 1733.7,588.6 1738.2,588.6 1742.6,588.6 1747.0,588.6 1751.4,588.6 1755.9,588.6 1760.3,588.6 1764.7,588.6 1769.1,588.6 1773.6,588.6 1778.0,588.6 1782.4,588.6 1786.8,588.6 1791.3,588.6 1795.7,588.6 1800.1,588.6 1804.5,588.6 1809.0,588.6 1813.4,588.6 1817.8,588.6 1822.3,588.6 1826.7,588.6 1831.1,588.6 1835.5,588.6 1840.0,588.6 1844.4,588.6 1848.8,588.6 1853.2,588.6 1857.7,588.6 1862.1,588.6 1866.5,588.6 1870.9,588.6 1875.4,588.6 1879.8,588.6 1884.2,588.6 1888.6,588.6 1893.1,588.6 1897.5,588.6 1901.9,588.6 1906.3,588.6 1910.8,588.6 1915.2,588.6 1919.6,588.6 1924.0,588.6 1928.5,588.6 1932.9,588.6 1937.3,588.6 1941.8,588.6 1946.2,588.6 1950.6,588.6 1955.0,588.6 1959.5,588.6 1963.9,588.6 1968.3,588.6 1972.7,588.6 1977.2,588.6 1981.6,588.6 1986.0,588.6 1990.4,588.6 1994.9,588.6 1999.3,588.6 2003.7,588.6 2008.1,588.6 2012.6,588.6 2017.0,588.6 2021.4,588.6 2025.8,588.6 2030.3,588.6 2034.7,588.6 2039.1,588.6 2043.6,588.6 2048.0,588.6 2052.4,588.6 2056.8,588.6 2061.3,588.6 2065.7,588.6 2070.1,588.6 2074.5,588.6 2079.0,588.6 2083.4,588.6 2087.8,588.6 2092.2,588.6 2096.7,588.6 2101.1,588.6 2105.5,588.6 2109.9,588.6 2114.4,588.6 2118.8,588.6 2123.2,588.6 2127.6,588.6 2132.1,588.6 2136.5,588.6 2140.9,588.6 2145.3,588.6 2149.8,588.6 2154.2,588.6 2158.6,588.6 2163.1,588.6 2167.5,588.6 2171.9,588.6 2176.3,588.6 2180.8,588.6 2185.2,588.6 2189.6,588.6 2194.0,588.6 2198.5,588.6 2202.9,588.6 2207.3,588.6 2211.7,588.6 2216.2,588.6 2220.6,588.6 2225.0,588.6 2229.4,588.6 2233.9,588.6 2238.3,588.6 2242.7,588.6 2247.1,588.6 2251.6,588.6 2256.0,588.6 2260.4,588.6 2264.9,588.6 2269.3,588.6 2273.7,588.6 2278.1,588.6 2282.6,588.6 2287.0,588.6 2291.4,588.6 2295.8,588.6 2300.3,588.6 2304.7,588.6 2309.1,588.6" fill="none" stroke="#f72024" stroke-width="8.40" stroke-linecap="square" stroke-linejoin="round" marker-start="url(#m-red)" marker-mid="url(#m-red)" marker-end="url(#m-red)"/>
<polyline points="1428.3,431.7 1432.8,429.6 1437.2,432.5 1441.6,437.3 1446.0,439.9 1450.5,444.0 1454.9,442.6 1459.3,445.1 1463.7,445.1 1468.2,450.6 1472.6,450.3 1477.0,452.2 1481.5,448.7 1485.9,450.9 1490.3,456.8 1494.7,455.7 1499.2,458.3 1503.6,455.5 1508.0,459.5 1512.4,460.9 1516.9,466.3 1521.3,462.8 1525.7,464.5 1530.1,467.7 1534.6,469.0 1539.0,462.7 1543.4,466.0 1547.8,468.1 1552.3,469.2 1556.7,473.2 1561.1,471.4 1565.5,473.5 1570.0,480.6 1574.4,480.5 1578.8,481.0 1583.2,480.6 1587.7,481.4 1592.1,482.6 1596.5,486.1 1601.0,484.3 1605.4,490.4 1609.8,487.3 1614.2,487.8 1618.7,492.2 1623.1,489.5 1627.5,493.3 1631.9,493.1 1636.4,495.7 1640.8,496.2 1645.2,495.2 1649.6,496.9 1654.1,499.1 1658.5,500.9 1662.9,505.0 1667.3,503.9 1671.8,506.7 1676.2,507.5 1680.6,505.5 1685.0,509.2 1689.5,508.7 1693.9,510.2 1698.3,513.8 1702.8,517.4 1707.2,515.5 1711.6,515.3 1716.0,517.7 1720.5,518.9 1724.9,520.8 1729.3,521.6 1733.7,523.0 1738.2,526.7 1742.6,526.1 1747.0,529.4 1751.4,530.1 1755.9,533.9 1760.3,533.3 1764.7,538.2 1769.1,534.1 1773.6,536.9 1778.0,537.6 1782.4,541.9 1786.8,540.1 1791.3,541.7 1795.7,545.7 1800.1,545.7 1804.5,548.4 1809.0,555.2 1813.4,555.8 1817.8,556.0 1822.3,556.1 1826.7,558.0 1831.1,557.9 1835.5,556.1 1840.0,556.6 1844.4,561.0 1848.8,561.3 1853.2,559.8 1857.7,560.3 1862.1,559.5 1866.5,560.1 1870.9,563.6 1875.4,563.3 1879.8,564.3 1884.2,563.6 1888.6,568.2 1893.1,568.3 1897.5,565.5 1901.9,564.1 1906.3,566.4 1910.8,564.7 1915.2,566.5 1919.6,569.1 1924.0,566.3 1928.5,566.4 1932.9,568.5 1937.3,569.3 1941.8,571.8 1946.2,572.5 1950.6,570.7 1955.0,568.4 1959.5,570.7 1963.9,567.9 1968.3,568.8 1972.7,571.5 1977.2,574.5 1981.6,575.2 1986.0,575.5 1990.4,576.9 1994.9,576.6 1999.3,577.8 2003.7,577.4 2008.1,578.2 2012.6,577.6 2017.0,577.0 2021.4,577.4 2025.8,579.5 2030.3,579.7 2034.7,580.0 2039.1,579.5 2043.6,581.2 2048.0,579.9 2052.4,579.6 2056.8,580.7 2061.3,580.8 2065.7,581.9 2070.1,581.1 2074.5,580.7 2079.0,582.1 2083.4,582.1 2087.8,582.3 2092.2,582.6 2096.7,583.5 2101.1,582.9 2105.5,583.9 2109.9,583.6 2114.4,582.9 2118.8,584.7 2123.2,584.4 2127.6,583.3 2132.1,583.3 2136.5,582.2 2140.9,583.0 2145.3,582.8 2149.8,582.6 2154.2,582.2 2158.6,581.3 2163.1,582.1 2167.5,581.4 2171.9,581.5 2176.3,581.5 2180.8,581.5 2185.2,581.1 2189.6,582.7 2194.0,581.4 2198.5,580.9 2202.9,581.4 2207.3,579.7 2211.7,580.0 2216.2,580.6 2220.6,580.4" fill="none" stroke="#a066c3" stroke-width="8.40" stroke-linecap="square" stroke-linejoin="round" marker-start="url(#m-purple)" marker-mid="url(#m-purple)" marker-end="url(#m-purple)"/>
<polyline points="1428.3,438.8 1432.8,442.9 1437.2,448.0 1441.6,444.6 1446.0,443.7 1450.5,448.9 1454.9,452.7 1459.3,440.0 1463.7,446.1 1468.2,452.8 1472.6,448.0 1477.0,450.3 1481.5,453.3 1485.9,458.6 1490.3,464.6 1494.7,461.0 1499.2,461.6 1503.6,464.8 1508.0,464.2 1512.4,461.2 1516.9,466.2 1521.3,466.2 1525.7,465.8 1530.1,470.2 1534.6,471.6 1539.0,470.6 1543.4,468.2 1547.8,471.2 1552.3,472.1 1556.7,481.2 1561.1,483.7 1565.5,483.0 1570.0,480.8 1574.4,477.1 1578.8,476.5 1583.2,476.1 1587.7,476.2 1592.1,477.7 1596.5,479.2 1601.0,479.5 1605.4,483.2 1609.8,484.8 1614.2,488.5 1618.7,487.9 1623.1,488.0 1627.5,487.4 1631.9,488.1 1636.4,487.2 1640.8,485.5 1645.2,483.3 1649.6,484.9 1654.1,488.1 1658.5,488.5 1662.9,490.4 1667.3,494.2 1671.8,496.8 1676.2,498.3 1680.6,496.4 1685.0,495.8 1689.5,495.3 1693.9,493.7 1698.3,495.0 1702.8,495.1 1707.2,495.6 1711.6,495.0 1716.0,495.8 1720.5,497.8 1724.9,502.1 1729.3,502.1 1733.7,501.5 1738.2,502.5 1742.6,503.6 1747.0,503.5 1751.4,504.9 1755.9,505.2 1760.3,507.5 1764.7,509.8 1769.1,510.7 1773.6,511.9 1778.0,513.0 1782.4,513.9 1786.8,513.9 1791.3,519.5 1795.7,523.0 1800.1,521.6 1804.5,517.7 1809.0,517.9 1813.4,519.0 1817.8,517.9 1822.3,519.0 1826.7,519.3 1831.1,519.7 1835.5,520.4 1840.0,523.0 1844.4,524.4 1848.8,525.1 1853.2,522.7 1857.7,524.8 1862.1,527.6 1866.5,529.1 1870.9,528.1 1875.4,527.5 1879.8,526.8 1884.2,526.5 1888.6,524.7 1893.1,526.8 1897.5,527.7 1901.9,529.0 1906.3,528.3 1910.8,527.0 1915.2,524.2 1919.6,523.6 1924.0,533.8 1928.5,531.4 1932.9,529.2 1937.3,527.9 1941.8,529.0 1946.2,531.5 1950.6,532.2 1955.0,533.7 1959.5,532.4 1963.9,531.2 1968.3,537.1 1972.7,537.9 1977.2,536.5 1981.6,536.3 1986.0,536.0 1990.4,538.1 1994.9,542.0 1999.3,545.7 2003.7,540.3 2008.1,542.6 2012.6,544.6 2017.0,546.0 2021.4,546.1 2025.8,548.2 2030.3,549.6 2034.7,550.0 2039.1,548.8 2043.6,550.5 2048.0,554.2 2052.4,552.7 2056.8,551.3 2061.3,552.3 2065.7,552.3 2070.1,553.2 2074.5,553.6 2079.0,553.8 2083.4,553.9 2087.8,554.4 2092.2,556.2 2096.7,557.0 2101.1,558.4 2105.5,558.3 2109.9,553.2 2114.4,556.5 2118.8,558.6 2123.2,557.0 2127.6,554.7 2132.1,554.8 2136.5,555.6 2140.9,555.1 2145.3,554.7 2149.8,551.4 2154.2,548.6 2158.6,547.6 2163.1,545.2 2167.5,548.4 2171.9,546.2 2176.3,549.2 2180.8,551.4 2185.2,552.4 2189.6,551.9 2194.0,553.1 2198.5,553.2 2202.9,555.3 2207.3,555.9 2211.7,559.1 2216.2,560.9 2220.6,563.4" fill="none" stroke="#96544a" stroke-width="8.40" stroke-linecap="square" stroke-linejoin="round"/>
<rect x="1384.45" y="32.50" width="968.85" height="657.65" fill="none" stroke="#000" stroke-width="2.24"/>
<path d="M1428.34 690.15v9.80M1649.64 690.15v9.80M1870.94 690.15v9.80M2092.24 690.15v9.80M2313.54 690.15v9.80M1384.45 690.15h-9.80M1384.45 588.97h-9.80M1384.45 487.80h-9.80M1384.45 386.62h-9.80M1384.45 285.44h-9.80M1384.45 184.27h-9.80M1384.45 83.09h-9.80" stroke="#000" stroke-width="2.24" fill="none"/>
<g font-size="56" text-anchor="middle">
<text x="1428.3" y="748.4">0</text>
<text x="1649.6" y="748.4">50</text>
<text x="1870.9" y="748.4">100</text>
<text x="2092.2" y="748.4">150</text>
<text x="2313.5" y="748.4">200</text>
</g>
<g font-size="56" text-anchor="end">
<text x="1364.7" y="709.8">-0.1</text>
<text x="1364.7" y="608.6">0.0</text>
<text x="1364.7" y="507.4">0.1</text>
<text x="1364.7" y="406.2">0.2</text>
<text x="1364.7" y="305.0">0.3</text>
<text x="1364.7" y="203.9">0.4</text>
<text x="1364.7" y="102.7">0.5</text>
</g>
<text x="1868.9" y="810.4" font-size="56" text-anchor="middle">Training times</text>
<text x="1868.5" y="868.5" font-size="56" text-anchor="middle">(b)</text>
<text transform="translate(1254.2 361.8) rotate(-90)" font-size="56" text-anchor="middle">Loss</text>
<rect x="1767.8" y="52.0" width="565.9" height="343.7" rx="7.8" ry="7.8" fill="#fff" fill-opacity="0.8" stroke="#ccc" stroke-opacity="0.8" stroke-width="2.80"/>
<line x1="1783.5" y1="81.4" x2="1861.9" y2="81.4" stroke="#0573b6" stroke-width="8.40" stroke-linecap="square"/>
<circle cx="1822.7" cy="81.4" r="8.40" fill="#0573b6" stroke="#0573b6" stroke-width="2.80"/>
<text x="1893.3" y="95.1" font-size="39.2">outer DDPG-actor-loss</text>
<line x1="1783.5" y1="136.8" x2="1861.9" y2="136.8" stroke="#ff7f00" stroke-width="8.40" stroke-linecap="square"/>
<text x="1893.3" y="150.5" font-size="39.2">outer DDPG-critic-loss</text>
<line x1="1783.5" y1="192.1" x2="1861.9" y2="192.1" stroke="#00a41c" stroke-width="8.40" stroke-linecap="square"/>
<polygon points="1822.70,183.72 1814.30,200.52 1831.10,200.52" fill="#00a41c" stroke="#00a41c" stroke-width="2.80"/>
<text x="1893.3" y="205.8" font-size="39.2">inner MADDPG-actor-loss</text>
<line x1="1783.5" y1="247.5" x2="1861.9" y2="247.5" stroke="#f72024" stroke-width="8.40" stroke-linecap="square"/>
<circle cx="1822.7" cy="247.5" r="8.40" fill="#f72024" stroke="#f72024" stroke-width="2.80"/>
<text x="1893.3" y="261.2" font-size="39.2">inner MADDPG-critc-loss</text>
<line x1="1783.5" y1="302.8" x2="1861.9" y2="302.8" stroke="#a066c3" stroke-width="8.40" stroke-linecap="square"/>
<polygon points="1822.70,294.44 1814.30,311.24 1831.10,311.24" fill="#a066c3" stroke="#a066c3" stroke-width="2.80"/>
<text x="1893.3" y="316.5" font-size="39.2">outer DQN-loss</text>
<line x1="1783.5" y1="358.2" x2="1861.9" y2="358.2" stroke="#96544a" stroke-width="8.40" stroke-linecap="square"/>
<text x="1893.3" y="371.9" font-size="39.2">inner MADQN-loss</text>
</g>
<g id="panel-c">
<polyline points="240.8,1490.4 245.3,1498.1 249.7,1504.9 254.1,1514.4 258.5,1521.3 263.0,1528.8 267.4,1527.9 271.8,1525.9 276.2,1522.1 280.6,1518.5 285.1,1515.3 289.5,1510.5 293.9,1506.7 298.3,1509.1 302.8,1509.8 307.2,1510.5 311.6,1509.5 316.0,1506.7 320.4,1506.4 324.9,1505.0 329.3,1502.0 333.7,1498.5 338.1,1495.9 342.6,1494.3 347.0,1491.4 351.4,1488.5 355.8,1486.4 360.2,1484.5 364.7,1483.9 369.1,1481.8 373.5,1479.1 377.9,1479.0 382.4,1481.3 386.8,1481.2 391.2,1478.5 395.6,1479.9 400.0,1478.4 404.5,1479.0 408.9,1478.0 413.3,1477.7 417.7,1477.5 422.2,1477.3 426.6,1477.5 431.0,1478.8 435.4,1477.9 439.8,1477.4 444.3,1477.1 448.7,1477.8 453.1,1477.2 457.5,1478.1 462.0,1476.9 466.4,1477.3 470.8,1477.0 475.2,1477.0 479.6,1477.5 484.1,1477.0 488.5,1476.3 492.9,1477.5 497.3,1476.4 501.8,1477.7 506.2,1476.4 510.6,1476.7 515.0,1476.4 519.4,1476.4 523.9,1476.3 528.3,1477.0 532.7,1476.4 537.1,1476.1 541.6,1477.1 546.0,1476.5 550.4,1476.2 554.8,1476.2 559.2,1477.3 563.7,1477.4 568.1,1476.4 572.5,1478.7 576.9,1477.9 581.4,1478.4 585.8,1476.5 590.2,1476.4 594.6,1477.0 599.0,1477.1 603.5,1478.8 607.9,1476.3 612.3,1476.9 616.7,1476.6 621.2,1477.4 625.6,1476.7 630.0,1476.2 634.4,1476.9 638.8,1476.0 643.3,1477.1 647.7,1476.2 652.1,1477.8 656.5,1476.1 661.0,1476.2 665.4,1476.6 669.8,1478.5 674.2,1477.8 678.6,1476.8 683.1,1476.8 687.5,1476.6 691.9,1476.6 696.3,1476.3 700.7,1476.6 705.2,1476.5 709.6,1476.7 714.0,1476.6 718.4,1477.0 722.9,1476.7 727.3,1476.8 731.7,1476.1 736.1,1476.2 740.5,1476.8 745.0,1475.8 749.4,1476.8 753.8,1476.3 758.2,1476.1 762.7,1476.4 767.1,1476.8 771.5,1477.0 775.9,1476.9 780.3,1477.9 784.8,1476.1 789.2,1476.6 793.6,1476.5 798.0,1477.6 802.5,1475.8 806.9,1476.3 811.3,1476.8 815.7,1476.3 820.1,1476.8 824.6,1477.0 829.0,1476.7 833.4,1476.3 837.8,1476.1 842.3,1477.4 846.7,1476.0 851.1,1476.0 855.5,1476.3 859.9,1476.8 864.4,1475.8 868.8,1476.9 873.2,1476.3 877.6,1476.4 882.1,1475.8 886.5,1476.8 890.9,1476.4 895.3,1476.2 899.7,1475.8 904.2,1476.9 908.6,1476.4 913.0,1477.4 917.4,1478.8 921.9,1475.8 926.3,1476.2 930.7,1477.4 935.1,1476.7 939.5,1477.2 944.0,1477.3 948.4,1476.8 952.8,1475.9 957.2,1476.1 961.7,1476.6 966.1,1476.7 970.5,1475.8 974.9,1476.0 979.3,1475.8 983.8,1476.3 988.2,1476.6 992.6,1476.0 997.0,1476.0 1001.5,1475.7 1005.9,1477.2 1010.3,1477.5 1014.7,1476.0 1019.1,1477.0 1023.6,1476.4 1028.0,1475.8 1032.4,1476.0 1036.8,1476.4 1041.3,1476.5 1045.7,1475.6 1050.1,1477.1 1054.5,1477.3 1058.9,1475.8 1063.4,1476.6 1067.8,1475.9 1072.2,1476.2 1076.6,1475.6 1081.1,1476.0 1085.5,1476.6 1089.9,1477.2 1094.3,1476.4 1098.7,1475.9 1103.2,1476.0 1107.6,1475.8 1112.0,1476.0 1116.4,1476.4 1120.8,1476.0" fill="none" stroke="#0573b6" stroke-width="8.40" stroke-linecap="square" stroke-linejoin="round" marker-start="url(#m-blue)" marker-mid="url(#m-blue)" marker-end="url(#m-blue)"/>
<polyline points="240.8,1471.1 245.3,1472.1 249.7,1472.6 254.1,1473.1 258.5,1473.6 263.0,1474.1 267.4,1474.9 271.8,1474.9 276.2,1474.9 280.6,1474.9 285.1,1474.9 289.5,1474.9 293.9,1474.9 298.3,1474.9 302.8,1474.9 307.2,1474.9 311.6,1474.9 316.0,1474.9 320.4,1474.9 324.9,1474.9 329.3,1474.9 333.7,1474.9 338.1,1474.9 342.6,1474.9 347.0,1474.9 351.4,1474.9 355.8,1474.9 360.2,1474.9 364.7,1474.9 369.1,1474.9 373.5,1474.9 377.9,1474.9 382.4,1474.9 386.8,1474.9 391.2,1474.9 395.6,1474.9 400.0,1474.9 404.5,1474.9 408.9,1474.9 413.3,1474.9 417.7,1474.9 422.2,1474.9 426.6,1474.9 431.0,1474.9 435.4,1474.9 439.8,1474.9 444.3,1474.9 448.7,1474.9 453.1,1474.9 457.5,1474.9 462.0,1474.9 466.4,1474.9 470.8,1474.9 475.2,1474.9 479.6,1474.9 484.1,1474.9 488.5,1474.9 492.9,1474.9 497.3,1474.9 501.8,1474.9 506.2,1474.9 510.6,1474.9 515.0,1474.9 519.4,1474.9 523.9,1474.9 528.3,1474.9 532.7,1474.9 537.1,1474.9 541.6,1474.9 546.0,1474.9 550.4,1474.9 554.8,1474.9 559.2,1474.9 563.7,1474.9 568.1,1474.9 572.5,1474.9 576.9,1474.9 581.4,1474.9 585.8,1474.9 590.2,1474.9 594.6,1474.9 599.0,1474.9 603.5,1474.9 607.9,1474.9 612.3,1474.9 616.7,1474.9 621.2,1474.9 625.6,1474.9 630.0,1474.9 634.4,1474.9 638.8,1474.9 643.3,1474.9 647.7,1474.9 652.1,1474.9 656.5,1474.9 661.0,1474.9 665.4,1474.9 669.8,1474.9 674.2,1474.9 678.6,1474.9 683.1,1474.9 687.5,1474.9 691.9,1474.9 696.3,1474.9 700.7,1474.9 705.2,1474.9 709.6,1474.9 714.0,1474.9 718.4,1474.9 722.9,1474.9 727.3,1474.9 731.7,1474.9 736.1,1474.9 740.5,1474.9 745.0,1474.9 749.4,1474.9 753.8,1474.9 758.2,1474.9 762.7,1474.9 767.1,1474.9 771.5,1474.9 775.9,1474.9 780.3,1474.9 784.8,1474.9 789.2,1474.9 793.6,1474.9 798.0,1474.9 802.5,1474.9 806.9,1474.9 811.3,1474.9 815.7,1474.9 820.1,1474.9 824.6,1474.9 829.0,1474.9 833.4,1474.9 837.8,1474.9 842.3,1474.9 846.7,1474.9 851.1,1474.9 855.5,1474.9 859.9,1474.9 864.4,1474.9 868.8,1474.9 873.2,1474.9 877.6,1474.9 882.1,1474.9 886.5,1474.9 890.9,1474.9 895.3,1474.9 899.7,1474.9 904.2,1474.9 908.6,1474.9 913.0,1474.9 917.4,1474.9 921.9,1474.9 926.3,1474.9 930.7,1474.9 935.1,1474.9 939.5,1474.9 944.0,1474.9 948.4,1474.9 952.8,1474.9 957.2,1474.9 961.7,1474.9 966.1,1474.9 970.5,1474.9 974.9,1474.9 979.3,1474.9 983.8,1474.9 988.2,1474.9 992.6,1474.9 997.0,1474.9 1001.5,1474.9 1005.9,1474.9 1010.3,1474.9 1014.7,1474.9 1019.1,1474.9 1023.6,1474.9 1028.0,1474.9 1032.4,1474.9 1036.8,1474.9 1041.3,1474.9 1045.7,1474.9 1050.1,1474.9 1054.5,1474.9 1058.9,1474.9 1063.4,1474.9 1067.8,1474.9 1072.2,1474.9 1076.6,1474.9 1081.1,1474.9 1085.5,1474.9 1089.9,1474.9 1094.3,1474.9 1098.7,1474.9 1103.2,1474.9 1107.6,1474.9 1112.0,1474.9 1116.4,1474.9 1120.8,1474.9" fill="none" stroke="#ff7f00" stroke-width="8.40" stroke-linecap="square" stroke-linejoin="round"/>
<polyline points="240.8,1488.2 245.3,1494.6 249.7,1493.8 254.1,1496.9 258.5,1496.9 263.0,1496.9 267.4,1492.0 271.8,1493.0 276.2,1489.0 280.6,1489.5 285.1,1489.9 289.5,1491.7 293.9,1492.5 298.3,1494.3 302.8,1498.2 307.2,1495.4 311.6,1495.5 316.0,1493.3 320.4,1489.6 324.9,1492.8 329.3,1488.2 333.7,1493.4 338.1,1490.6 342.6,1487.8 347.0,1485.4 351.4,1485.2 355.8,1484.0 360.2,1483.0 364.7,1483.2 369.1,1481.5 373.5,1478.8 377.9,1482.2 382.4,1480.4 386.8,1480.1 391.2,1480.4 395.6,1479.7 400.0,1479.5 404.5,1479.4 408.9,1479.1 413.3,1479.5 417.7,1479.0 422.2,1478.8 426.6,1478.9 431.0,1479.4 435.4,1478.4 439.8,1478.2 444.3,1479.1 448.7,1478.0 453.1,1478.3 457.5,1478.0 462.0,1477.9 466.4,1477.7 470.8,1477.8 475.2,1477.6 479.6,1477.4 484.1,1477.1 488.5,1477.5 492.9,1477.2 497.3,1477.7 501.8,1476.9 506.2,1476.6 510.6,1477.3 515.0,1477.2 519.4,1478.1 523.9,1477.8 528.3,1476.5 532.7,1476.7 537.1,1476.8 541.6,1476.7 546.0,1477.0 550.4,1476.9 554.8,1476.4 559.2,1477.2 563.7,1476.5 568.1,1476.7 572.5,1476.6 576.9,1477.0 581.4,1476.4 585.8,1477.0 590.2,1476.6 594.6,1476.4 599.0,1476.8 603.5,1476.8 607.9,1476.7 612.3,1476.9 616.7,1476.4 621.2,1476.5 625.6,1476.3 630.0,1476.6 634.4,1476.8 638.8,1476.4 643.3,1477.8 647.7,1476.3 652.1,1476.0 656.5,1476.2 661.0,1476.5 665.4,1476.1 669.8,1475.9 674.2,1476.3 678.6,1476.4 683.1,1476.8 687.5,1476.3 691.9,1476.2 696.3,1476.0 700.7,1476.1 705.2,1475.9 709.6,1476.0 714.0,1476.1 718.4,1477.2 722.9,1476.5 727.3,1475.8 731.7,1476.5 736.1,1476.1 740.5,1476.5 745.0,1476.8 749.4,1476.0 753.8,1475.8 758.2,1476.6 762.7,1476.3 767.1,1475.8 771.5,1477.0 775.9,1476.0 780.3,1476.1 784.8,1475.8 789.2,1476.5 793.6,1477.0 798.0,1476.3 802.5,1476.1 806.9,1475.9 811.3,1475.8 815.7,1477.1 820.1,1475.8 824.6,1476.3 829.0,1477.6 833.4,1475.9 837.8,1476.4 842.3,1476.1 846.7,1475.9 851.1,1476.3 855.5,1476.3 859.9,1476.6 864.4,1476.5 868.8,1476.1 873.2,1476.2 877.6,1476.6 882.1,1476.0 886.5,1476.7 890.9,1476.4 895.3,1475.9 899.7,1475.9 904.2,1475.8 908.6,1476.5 913.0,1476.1 917.4,1477.7 921.9,1475.8 926.3,1476.1 930.7,1476.6 935.1,1476.0 939.5,1475.9 944.0,1476.6 948.4,1476.7 952.8,1476.5 957.2,1475.8 961.7,1476.5 966.1,1476.0 970.5,1476.9 974.9,1475.7 979.3,1476.0 983.8,1475.9 988.2,1476.2 992.6,1475.7 997.0,1476.0 1001.5,1475.8 1005.9,1476.4 1010.3,1476.2 1014.7,1475.7 1019.1,1475.9 1023.6,1476.7 1028.0,1475.7 1032.4,1475.8 1036.8,1476.2 1041.3,1475.9 1045.7,1476.3 1050.1,1476.9 1054.5,1476.2 1058.9,1475.8 1063.4,1476.0 1067.8,1475.7 1072.2,1476.9 1076.6,1476.9 1081.1,1476.0 1085.5,1476.5 1089.9,1475.9 1094.3,1476.6 1098.7,1476.0 1103.2,1476.2 1107.6,1475.9 1112.0,1476.5 1116.4,1475.8 1120.8,1476.1" fill="none" stroke="#00a41c" stroke-width="8.40" stroke-linecap="square" stroke-linejoin="round" marker-start="url(#m-green)" marker-mid="url(#m-green)" marker-end="url(#m-green)"/>
<polyline points="240.8,1035.1 245.3,1165.7 249.7,1258.9 254.1,1334.9 258.5,1381.9 263.0,1399.5 267.4,1409.7 271.8,1419.9 276.2,1430.7 280.6,1439.5 285.1,1445.6 289.5,1449.7 293.9,1453.1 298.3,1455.8 302.8,1458.5 307.2,1459.9 311.6,1461.3 316.0,1462.6 320.4,1464.6 324.9,1466.5 329.3,1468.1 333.7,1469.1 338.1,1470.1 342.6,1470.9 347.0,1471.6 351.4,1472.1 355.8,1472.5 360.2,1472.9 364.7,1473.1 369.1,1473.3 373.5,1473.5 377.9,1473.7 382.4,1473.9 386.8,1474.1 391.2,1474.2 395.6,1474.3 400.0,1474.4 404.5,1474.5 408.9,1474.7 413.3,1474.7 417.7,1474.7 422.2,1474.7 426.6,1474.7 431.0,1474.7 435.4,1474.7 439.8,1474.7 444.3,1474.7 448.7,1474.7 453.1,1474.7 457.5,1474.7 462.0,1474.7 466.4,1474.7 470.8,1474.7 475.2,1474.7 479.6,1474.7 484.1,1474.7 488.5,1474.7 492.9,1474.7 497.3,1474.7 501.8,1474.7 506.2,1474.7 510.6,1474.7 515.0,1474.7 519.4,1474.7 523.9,1474.7 528.3,1474.7 532.7,1474.7 537.1,1474.7 541.6,1474.7 546.0,1474.7 550.4,1474.7 554.8,1474.7 559.2,1474.7 563.7,1474.7 568.1,1474.7 572.5,1474.7 576.9,1474.7 581.4,1474.7 585.8,1474.7 590.2,1474.7 594.6,1474.7 599.0,1474.7 603.5,1474.7 607.9,1474.7 612.3,1474.7 616.7,1474.7 621.2,1474.7 625.6,1474.7 630.0,1474.7 634.4,1474.7 638.8,1474.7 643.3,1474.7 647.7,1474.7 652.1,1474.7 656.5,1474.7 661.0,1474.7 665.4,1474.7 669.8,1474.7 674.2,1474.7 678.6,1474.7 683.1,1474.7 687.5,1474.7 691.9,1474.7 696.3,1474.7 700.7,1474.7 705.2,1474.7 709.6,1474.7 714.0,1474.7 718.4,1474.7 722.9,1474.7 727.3,1474.7 731.7,1474.7 736.1,1474.7 740.5,1474.7 745.0,1474.7 749.4,1474.7 753.8,1474.7 758.2,1474.7 762.7,1474.7 767.1,1474.7 771.5,1474.7 775.9,1474.7 780.3,1474.7 784.8,1474.7 789.2,1474.7 793.6,1474.7 798.0,1474.7 802.5,1474.7 806.9,1474.7 811.3,1474.7 815.7,1474.7 820.1,1474.7 824.6,1474.7 829.0,1474.7 833.4,1474.7 837.8,1474.7 842.3,1474.7 846.7,1474.7 851.1,1474.7 855.5,1474.7 859.9,1474.7 864.4,1474.7 868.8,1474.7 873.2,1474.7 877.6,1474.7 882.1,1474.7 886.5,1474.7 890.9,1474.7 895.3,1474.7 899.7,1474.7 904.2,1474.7 908.6,1474.7 913.0,1474.7 917.4,1474.7 921.9,1474.7 926.3,1474.7 930.7,1474.7 935.1,1474.7 939.5,1474.7 944.0,1474.7 948.4,1474.7 952.8,1474.7 957.2,1474.7 961.7,1474.7 966.1,1474.7 970.5,1474.7 974.9,1474.7 979.3,1474.7 983.8,1474.7 988.2,1474.7 992.6,1474.7 997.0,1474.7 1001.5,1474.7 1005.9,1474.7 1010.3,1474.7 1014.7,1474.7 1019.1,1474.7 1023.6,1474.7 1028.0,1474.7 1032.4,1474.7 1036.8,1474.7 1041.3,1474.7 1045.7,1474.7 1050.1,1474.7 1054.5,1474.7 1058.9,1474.7 1063.4,1474.7 1067.8,1474.7 1072.2,1474.7 1076.6,1474.7 1081.1,1474.7 1085.5,1474.7 1089.9,1474.7 1094.3,1474.7 1098.7,1474.7 1103.2,1474.7 1107.6,1474.7 1112.0,1474.7 1116.4,1474.7 1120.8,1474.7" fill="none" stroke="#f72024" stroke-width="8.40" stroke-linecap="square" stroke-linejoin="round" marker-start="url(#m-red)" marker-mid="url(#m-red)" marker-end="url(#m-red)"/>
<polyline points="240.8,1466.8 245.3,1467.1 249.7,1467.5 254.1,1467.1 258.5,1467.4 263.0,1468.1 267.4,1468.0 271.8,1468.4 276.2,1468.6 280.6,1467.8 285.1,1468.6 289.5,1468.5 293.9,1468.7 298.3,1469.0 302.8,1469.5 307.2,1469.6 311.6,1469.3 316.0,1469.3 320.4,1470.3 324.9,1470.2 329.3,1470.1 333.7,1469.9 338.1,1470.2 342.6,1470.3 347.0,1470.6 351.4,1471.1 355.8,1470.9 360.2,1470.6 364.7,1471.0 369.1,1471.5 373.5,1470.8 377.9,1471.2 382.4,1471.2 386.8,1471.0 391.2,1471.8 395.6,1472.0 400.0,1472.6 404.5,1471.9 408.9,1471.9 413.3,1472.1 417.7,1472.2 422.2,1472.0 426.6,1472.3 431.0,1472.4 435.4,1472.6 439.8,1472.7 444.3,1472.5 448.7,1472.9 453.1,1473.1 457.5,1473.3 462.0,1473.2 466.4,1473.2 470.8,1473.2 475.2,1473.4 479.6,1473.7 484.1,1474.2 488.5,1473.6 492.9,1474.2 497.3,1474.0 501.8,1473.7 506.2,1474.1 510.6,1474.4 515.0,1473.9 519.4,1474.2 523.9,1474.3 528.3,1473.8 532.7,1474.0 537.1,1473.2 541.6,1474.5 546.0,1474.2 550.4,1474.1 554.8,1473.8 559.2,1474.3 563.7,1473.7 568.1,1474.1 572.5,1474.4 576.9,1474.2 581.4,1474.2 585.8,1474.2 590.2,1474.4 594.6,1474.3 599.0,1473.9 603.5,1474.0 607.9,1473.7 612.3,1474.5 616.7,1474.6 621.2,1473.6 625.6,1474.1 630.0,1474.1 634.4,1474.5 638.8,1474.1 643.3,1474.2 647.7,1474.3 652.1,1473.9 656.5,1474.5 661.0,1474.2 665.4,1474.8 669.8,1474.2 674.2,1474.6 678.6,1473.8 683.1,1474.7 687.5,1473.8 691.9,1474.6 696.3,1474.8 700.7,1474.3 705.2,1474.3 709.6,1474.6 714.0,1474.7 718.4,1475.1 722.9,1474.5 727.3,1474.2 731.7,1475.0 736.1,1474.3 740.5,1473.9 745.0,1474.9 749.4,1474.2 753.8,1474.2 758.2,1474.6 762.7,1474.3 767.1,1474.7 771.5,1474.3 775.9,1473.9 780.3,1474.5 784.8,1474.6 789.2,1475.0 793.6,1473.8 798.0,1473.9 802.5,1474.6 806.9,1474.4 811.3,1474.5 815.7,1474.0 820.1,1474.9 824.6,1474.2 829.0,1475.1 833.4,1474.3 837.8,1474.7 842.3,1474.1 846.7,1474.3 851.1,1474.7 855.5,1474.7 859.9,1474.8 864.4,1474.0 868.8,1474.2 873.2,1474.7 877.6,1474.9 882.1,1474.4 886.5,1474.5 890.9,1474.7 895.3,1474.5 899.7,1474.3 904.2,1474.5 908.6,1474.3 913.0,1474.5 917.4,1474.5 921.9,1474.7 926.3,1474.3 930.7,1474.5 935.1,1474.6 939.5,1474.5 944.0,1474.6 948.4,1474.6 952.8,1474.4 957.2,1474.3 961.7,1475.1 966.1,1474.6 970.5,1474.6 974.9,1474.9 979.3,1474.5 983.8,1474.7 988.2,1474.8 992.6,1475.1 997.0,1475.1 1001.5,1474.6 1005.9,1474.1 1010.3,1474.8 1014.7,1475.3 1019.1,1474.3 1023.6,1474.6 1028.0,1474.3 1032.4,1474.8" fill="none" stroke="#a066c3" stroke-width="8.40" stroke-linecap="square" stroke-linejoin="round" marker-start="url(#m-purple)" marker-mid="url(#m-purple)" marker-end="url(#m-purple)"/>
<polyline points="240.8,1324.6 245.3,1328.6 249.7,1332.2 254.1,1335.4 258.5,1332.8 263.0,1332.0 267.4,1334.6 271.8,1334.2 276.2,1333.2 280.6,1334.2 285.1,1337.4 289.5,1345.1 293.9,1348.4 298.3,1347.3 302.8,1345.9 307.2,1343.7 311.6,1342.3 316.0,1341.7 320.4,1341.7 324.9,1355.8 329.3,1359.1 333.7,1355.7 338.1,1353.4 342.6,1353.1 347.0,1353.7 351.4,1356.0 355.8,1355.9 360.2,1352.8 364.7,1355.7 369.1,1358.9 373.5,1362.5 377.9,1360.2 382.4,1357.7 386.8,1363.4 391.2,1361.7 395.6,1361.7 400.0,1361.8 404.5,1363.3 408.9,1362.2 413.3,1359.1 417.7,1357.0 422.2,1365.1 426.6,1371.0 431.0,1358.4 435.4,1364.6 439.8,1366.6 444.3,1359.8 448.7,1362.1 453.1,1366.9 457.5,1369.1 462.0,1366.6 466.4,1365.6 470.8,1364.3 475.2,1367.0 479.6,1370.8 484.1,1373.8 488.5,1375.9 492.9,1375.3 497.3,1375.2 501.8,1373.7 506.2,1374.1 510.6,1373.4 515.0,1375.7 519.4,1378.8 523.9,1374.5 528.3,1379.0 532.7,1384.2 537.1,1382.5 541.6,1379.2 546.0,1380.3 550.4,1383.2 554.8,1382.2 559.2,1383.5 563.7,1382.4 568.1,1383.9 572.5,1386.0 576.9,1389.8 581.4,1390.9 585.8,1392.2 590.2,1390.3 594.6,1395.4 599.0,1396.0 603.5,1397.7 607.9,1396.6 612.3,1395.8 616.7,1399.9 621.2,1401.3 625.6,1402.0 630.0,1401.8 634.4,1401.2 638.8,1402.0 643.3,1404.1 647.7,1409.2 652.1,1409.7 656.5,1407.7 661.0,1408.7 665.4,1407.5 669.8,1409.7 674.2,1414.6 678.6,1414.2 683.1,1416.6 687.5,1416.9 691.9,1417.7 696.3,1419.4 700.7,1420.8 705.2,1423.3 709.6,1421.4 714.0,1422.0 718.4,1421.7 722.9,1422.2 727.3,1426.8 731.7,1427.4 736.1,1429.7 740.5,1431.2 745.0,1432.0 749.4,1428.0 753.8,1431.6 758.2,1434.3 762.7,1437.3 767.1,1439.3 771.5,1438.2 775.9,1436.4 780.3,1439.3 784.8,1442.7 789.2,1446.1 793.6,1446.7 798.0,1447.4 802.5,1447.3 806.9,1449.3 811.3,1451.8 815.7,1450.7 820.1,1452.4 824.6,1451.5 829.0,1453.2 833.4,1453.8 837.8,1456.5 842.3,1457.9 846.7,1460.5 851.1,1463.0 855.5,1462.1 859.9,1463.0 864.4,1463.0 868.8,1462.1 873.2,1462.2 877.6,1462.8 882.1,1461.4 886.5,1462.9 890.9,1462.4 895.3,1463.1 899.7,1464.5 904.2,1462.3 908.6,1465.0 913.0,1466.2 917.4,1464.9 921.9,1465.1 926.3,1463.5 930.7,1463.4 935.1,1464.4 939.5,1464.5 944.0,1463.6 948.4,1464.4 952.8,1462.3 957.2,1463.2 961.7,1461.7 966.1,1462.8 970.5,1461.6 974.9,1462.2 979.3,1463.9 983.8,1464.8 988.2,1463.7 992.6,1461.9 997.0,1459.9 1001.5,1461.6 1005.9,1460.6 1010.3,1460.8 1014.7,1461.8 1019.1,1462.2 1023.6,1463.8 1028.0,1465.2 1032.4,1466.5" fill="none" stroke="#96544a" stroke-width="8.40" stroke-linecap="square" stroke-linejoin="round"/>
<rect x="197.00" y="918.30" width="968.00" height="658.10" fill="none" stroke="#000" stroke-width="2.24"/>
<path d="M240.85 1576.40v9.80M461.96 1576.40v9.80M683.06 1576.40v9.80M904.17 1576.40v9.80M1125.27 1576.40v9.80M197.00 1576.40h-9.80M197.00 1475.15h-9.80M197.00 1373.91h-9.80M197.00 1272.66h-9.80M197.00 1171.42h-9.80M197.00 1070.17h-9.80M197.00 968.92h-9.80" stroke="#000" stroke-width="2.24" fill="none"/>
<g font-size="56" text-anchor="middle">
<text x="240.8" y="1634.7">0</text>
<text x="462.0" y="1634.7">50</text>
<text x="683.1" y="1634.7">100</text>
<text x="904.2" y="1634.7">150</text>
<text x="1125.3" y="1634.7">200</text>
</g>
<g font-size="56" text-anchor="end">
<text x="177.2" y="1596.0">-0.1</text>
<text x="177.2" y="1494.8">0.0</text>
<text x="177.2" y="1393.5">0.1</text>
<text x="177.2" y="1292.3">0.2</text>
<text x="177.2" y="1191.0">0.3</text>
<text x="177.2" y="1089.8">0.4</text>
<text x="177.2" y="988.5">0.5</text>
</g>
<text x="681.0" y="1696.7" font-size="56" text-anchor="middle">Training times</text>
<text x="680.6" y="1754.8" font-size="56" text-anchor="middle">(c)</text>
<text transform="translate(65.6 1247.8) rotate(-90)" font-size="56" text-anchor="middle">Loss</text>
<rect x="579.5" y="937.8" width="565.9" height="343.7" rx="7.8" ry="7.8" fill="#fff" fill-opacity="0.8" stroke="#ccc" stroke-opacity="0.8" stroke-width="2.80"/>
<line x1="595.2" y1="967.2" x2="673.6" y2="967.2" stroke="#0573b6" stroke-width="8.40" stroke-linecap="square"/>
<circle cx="634.4" cy="967.2" r="8.40" fill="#0573b6" stroke="#0573b6" stroke-width="2.80"/>
<text x="705.0" y="980.9" font-size="39.2">outer DDPG-actor-loss</text>
<line x1="595.2" y1="1022.6" x2="673.6" y2="1022.6" stroke="#ff7f00" stroke-width="8.40" stroke-linecap="square"/>
<text x="705.0" y="1036.3" font-size="39.2">outer DDPG-critic-loss</text>
<line x1="595.2" y1="1077.9" x2="673.6" y2="1077.9" stroke="#00a41c" stroke-width="8.40" stroke-linecap="square"/>
<polygon points="634.40,1069.52 626.00,1086.32 642.80,1086.32" fill="#00a41c" stroke="#00a41c" stroke-width="2.80"/>
<text x="705.0" y="1091.6" font-size="39.2">inner MADDPG-actor-loss</text>
<line x1="595.2" y1="1133.3" x2="673.6" y2="1133.3" stroke="#f72024" stroke-width="8.40" stroke-linecap="square"/>
<circle cx="634.4" cy="1133.3" r="8.40" fill="#f72024" stroke="#f72024" stroke-width="2.80"/>
<text x="705.0" y="1147.0" font-size="39.2">inner MADDPG-critc-loss</text>
<line x1="595.2" y1="1188.6" x2="673.6" y2="1188.6" stroke="#a066c3" stroke-width="8.40" stroke-linecap="square"/>
<polygon points="634.40,1180.24 626.00,1197.04 642.80,1197.04" fill="#a066c3" stroke="#a066c3" stroke-width="2.80"/>
<text x="705.0" y="1202.3" font-size="39.2">outer DQN-loss</text>
<line x1="595.2" y1="1244.0" x2="673.6" y2="1244.0" stroke="#96544a" stroke-width="8.40" stroke-linecap="square"/>
<text x="705.0" y="1257.7" font-size="39.2">inner MADQN-loss</text>
</g>
<g id="panel-d">
<polyline points="1428.3,1495.6 1432.8,1501.2 1437.2,1506.7 1441.6,1512.8 1446.0,1518.2 1450.5,1524.1 1454.9,1529.8 1459.3,1534.4 1463.7,1541.1 1468.2,1546.6 1472.6,1544.9 1477.0,1539.1 1481.5,1518.5 1485.9,1514.0 1490.3,1507.7 1494.7,1503.6 1499.2,1500.7 1503.6,1495.4 1508.0,1492.6 1512.4,1490.1 1516.9,1487.7 1521.3,1485.3 1525.7,1483.8 1530.1,1483.4 1534.6,1482.5 1539.0,1481.8 1543.4,1481.3 1547.8,1480.2 1552.3,1479.7 1556.7,1479.8 1561.1,1478.8 1565.5,1478.4 1570.0,1477.6 1574.4,1478.8 1578.8,1479.0 1583.2,1478.4 1587.7,1478.2 1592.1,1479.5 1596.5,1479.4 1601.0,1479.4 1605.4,1478.2 1609.8,1478.3 1614.2,1478.9 1618.7,1479.9 1623.1,1480.7 1627.5,1482.8 1631.9,1486.5 1636.4,1490.7 1640.8,1492.6 1645.2,1493.6 1649.6,1491.5 1654.1,1490.0 1658.5,1487.3 1662.9,1484.2 1667.3,1481.4 1671.8,1479.8 1676.2,1477.2 1680.6,1477.1 1685.0,1476.8 1689.5,1476.9 1693.9,1478.1 1698.3,1477.1 1702.8,1476.4 1707.2,1478.7 1711.6,1476.6 1716.0,1476.3 1720.5,1476.5 1724.9,1477.5 1729.3,1476.4 1733.7,1477.5 1738.2,1476.5 1742.6,1476.2 1747.0,1477.5 1751.4,1478.8 1755.9,1477.2 1760.3,1477.8 1764.7,1476.7 1769.1,1476.6 1773.6,1477.7 1778.0,1477.6 1782.4,1476.9 1786.8,1478.3 1791.3,1476.8 1795.7,1477.2 1800.1,1476.3 1804.5,1476.4 1809.0,1476.2 1813.4,1477.0 1817.8,1476.8 1822.3,1478.9 1826.7,1476.7 1831.1,1476.3 1835.5,1476.4 1840.0,1476.2 1844.4,1477.0 1848.8,1476.6 1853.2,1478.2 1857.7,1478.6 1862.1,1477.8 1866.5,1476.1 1870.9,1477.6 1875.4,1478.0 1879.8,1476.4 1884.2,1477.9 1888.6,1476.6 1893.1,1476.6 1897.5,1479.2 1901.9,1477.0 1906.3,1477.2 1910.8,1476.4 1915.2,1476.4 1919.6,1476.5 1924.0,1477.3 1928.5,1476.8 1932.9,1476.7 1937.3,1476.6 1941.8,1476.7 1946.2,1478.3 1950.6,1476.8 1955.0,1476.0 1959.5,1476.7 1963.9,1476.4 1968.3,1476.2 1972.7,1476.3 1977.2,1476.7 1981.6,1476.0 1986.0,1476.6 1990.4,1476.8 1994.9,1476.2 1999.3,1476.7 2003.7,1476.7 2008.1,1476.6 2012.6,1476.5 2017.0,1475.9 2021.4,1478.1 2025.8,1476.1 2030.3,1476.3 2034.7,1476.4 2039.1,1477.5 2043.6,1475.9 2048.0,1476.0 2052.4,1476.6 2056.8,1476.1 2061.3,1476.3 2065.7,1476.4 2070.1,1476.5 2074.5,1475.9 2079.0,1477.8 2083.4,1477.3 2087.8,1476.1 2092.2,1476.1 2096.7,1476.2 2101.1,1475.9 2105.5,1477.1 2109.9,1477.2 2114.4,1476.2 2118.8,1478.0 2123.2,1476.7 2127.6,1476.2 2132.1,1475.9 2136.5,1477.1 2140.9,1477.7 2145.3,1477.2 2149.8,1477.6 2154.2,1475.9 2158.6,1476.9 2163.1,1476.6 2167.5,1475.9 2171.9,1475.9 2176.3,1476.2 2180.8,1476.9 2185.2,1475.8 2189.6,1476.2 2194.0,1476.6 2198.5,1475.9 2202.9,1476.3 2207.3,1476.2 2211.7,1477.0 2216.2,1476.1 2220.6,1476.7 2225.0,1476.3 2229.4,1478.3 2233.9,1476.5 2238.3,1477.3 2242.7,1476.5 2247.1,1476.9 2251.6,1475.8 2256.0,1475.8 2260.4,1477.8 2264.9,1476.3 2269.3,1476.2 2273.7,1476.4 2278.1,1476.4 2282.6,1477.3 2287.0,1476.7 2291.4,1476.3 2295.8,1475.8 2300.3,1477.6 2304.7,1475.8 2309.1,1476.0" fill="none" stroke="#0573b6" stroke-width="8.40" stroke-linecap="square" stroke-linejoin="round" marker-start="url(#m-blue)" marker-mid="url(#m-blue)" marker-end="url(#m-blue)"/>
<polyline points="1428.3,1417.8 1432.8,1451.9 1437.2,1454.1 1441.6,1454.4 1446.0,1454.4 1450.5,1454.2 1454.9,1454.0 1459.3,1454.4 1463.7,1454.9 1468.2,1457.4 1472.6,1460.5 1477.0,1464.0 1481.5,1467.1 1485.9,1469.6 1490.3,1471.6 1494.7,1473.6 1499.2,1475.2 1503.6,1476.2 1508.0,1477.2 1512.4,1477.2 1516.9,1476.7 1521.3,1476.2 1525.7,1475.2 1530.1,1475.0 1534.6,1475.0 1539.0,1475.0 1543.4,1475.0 1547.8,1475.0 1552.3,1475.0 1556.7,1475.0 1561.1,1475.0 1565.5,1475.0 1570.0,1475.0 1574.4,1475.0 1578.8,1475.0 1583.2,1475.0 1587.7,1475.0 1592.1,1475.0 1596.5,1475.0 1601.0,1475.0 1605.4,1475.0 1609.8,1475.0 1614.2,1475.0 1618.7,1475.0 1623.1,1475.0 1627.5,1475.0 1631.9,1475.0 1636.4,1475.0 1640.8,1475.0 1645.2,1475.0 1649.6,1475.0 1654.1,1475.0 1658.5,1475.0 1662.9,1475.0 1667.3,1475.0 1671.8,1475.0 1676.2,1475.0 1680.6,1475.0 1685.0,1475.0 1689.5,1475.0 1693.9,1475.0 1698.3,1475.0 1702.8,1475.0 1707.2,1475.0 1711.6,1475.0 1716.0,1475.0 1720.5,1475.0 1724.9,1475.0 1729.3,1475.0 1733.7,1475.0 1738.2,1475.0 1742.6,1475.0 1747.0,1475.0 1751.4,1475.0 1755.9,1475.0 1760.3,1475.0 1764.7,1475.0 1769.1,1475.0 1773.6,1475.0 1778.0,1475.0 1782.4,1475.0 1786.8,1475.0 1791.3,1475.0 1795.7,1475.0 1800.1,1475.0 1804.5,1475.0 1809.0,1475.0 1813.4,1475.0 1817.8,1475.0 1822.3,1475.0 1826.7,1475.0 1831.1,1475.0 1835.5,1475.0 1840.0,1475.0 1844.4,1475.0 1848.8,1475.0 1853.2,1475.0 1857.7,1475.0 1862.1,1475.0 1866.5,1475.0 1870.9,1475.0 1875.4,1475.0 1879.8,1475.0 1884.2,1475.0 1888.6,1475.0 1893.1,1475.0 1897.5,1475.0 1901.9,1475.0 1906.3,1475.0 1910.8,1475.0 1915.2,1475.0 1919.6,1475.0 1924.0,1475.0 1928.5,1475.0 1932.9,1475.0 1937.3,1475.0 1941.8,1475.0 1946.2,1475.0 1950.6,1475.0 1955.0,1475.0 1959.5,1475.0 1963.9,1475.0 1968.3,1475.0 1972.7,1475.0 1977.2,1475.0 1981.6,1475.0 1986.0,1475.0 1990.4,1475.0 1994.9,1475.0 1999.3,1475.0 2003.7,1475.0 2008.1,1475.0 2012.6,1475.0 2017.0,1475.0 2021.4,1475.0 2025.8,1475.0 2030.3,1475.0 2034.7,1475.0 2039.1,1475.0 2043.6,1475.0 2048.0,1475.0 2052.4,1475.0 2056.8,1475.0 2061.3,1475.0 2065.7,1475.0 2070.1,1475.0 2074.5,1475.0 2079.0,1475.0 2083.4,1475.0 2087.8,1475.0 2092.2,1475.0 2096.7,1475.0 2101.1,1475.0 2105.5,1475.0 2109.9,1475.0 2114.4,1475.0 2118.8,1475.0 2123.2,1475.0 2127.6,1475.0 2132.1,1475.0 2136.5,1475.0 2140.9,1475.0 2145.3,1475.0 2149.8,1475.0 2154.2,1475.0 2158.6,1475.0 2163.1,1475.0 2167.5,1475.0 2171.9,1475.0 2176.3,1475.0 2180.8,1475.0 2185.2,1475.0 2189.6,1475.0 2194.0,1475.0 2198.5,1475.0 2202.9,1475.0 2207.3,1475.0 2211.7,1475.0 2216.2,1475.0 2220.6,1475.0 2225.0,1475.0 2229.4,1475.0 2233.9,1475.0 2238.3,1475.0 2242.7,1475.0 2247.1,1475.0 2251.6,1475.0 2256.0,1475.0 2260.4,1475.0 2264.9,1475.0 2269.3,1475.0 2273.7,1475.0 2278.1,1475.0 2282.6,1475.0 2287.0,1475.0 2291.4,1475.0 2295.8,1475.0 2300.3,1475.0 2304.7,1475.0 2309.1,1475.0" fill="none" stroke="#ff7f00" stroke-width="8.40" stroke-linecap="square" stroke-linejoin="round"/>
<polyline points="1428.3,1484.0 1432.8,1486.9 1437.2,1492.6 1441.6,1495.0 1446.0,1494.8 1450.5,1494.6 1454.9,1491.3 1459.3,1489.0 1463.7,1489.2 1468.2,1487.3 1472.6,1485.6 1477.0,1480.2 1481.5,1480.4 1485.9,1483.6 1490.3,1486.8 1494.7,1487.5 1499.2,1487.2 1503.6,1489.8 1508.0,1491.1 1512.4,1490.4 1516.9,1491.6 1521.3,1493.8 1525.7,1492.3 1530.1,1491.7 1534.6,1489.3 1539.0,1488.6 1543.4,1487.4 1547.8,1487.1 1552.3,1485.7 1556.7,1486.0 1561.1,1487.2 1565.5,1483.5 1570.0,1479.9 1574.4,1481.5 1578.8,1479.8 1583.2,1479.6 1587.7,1478.2 1592.1,1477.9 1596.5,1479.1 1601.0,1478.5 1605.4,1478.5 1609.8,1478.3 1614.2,1477.9 1618.7,1477.8 1623.1,1478.8 1627.5,1478.1 1631.9,1478.6 1636.4,1478.1 1640.8,1477.4 1645.2,1477.5 1649.6,1477.3 1654.1,1477.9 1658.5,1477.2 1662.9,1477.2 1667.3,1477.8 1671.8,1477.1 1676.2,1477.8 1680.6,1477.6 1685.0,1477.1 1689.5,1476.9 1693.9,1478.1 1698.3,1476.9 1702.8,1477.6 1707.2,1477.4 1711.6,1476.8 1716.0,1477.6 1720.5,1477.4 1724.9,1476.7 1729.3,1477.1 1733.7,1476.9 1738.2,1477.0 1742.6,1476.8 1747.0,1477.1 1751.4,1476.3 1755.9,1476.7 1760.3,1476.7 1764.7,1477.2 1769.1,1477.1 1773.6,1477.3 1778.0,1476.4 1782.4,1476.5 1786.8,1476.9 1791.3,1476.3 1795.7,1476.3 1800.1,1477.3 1804.5,1476.8 1809.0,1476.6 1813.4,1477.1 1817.8,1476.3 1822.3,1476.3 1826.7,1476.3 1831.1,1477.0 1835.5,1476.3 1840.0,1476.1 1844.4,1476.9 1848.8,1476.2 1853.2,1476.7 1857.7,1476.0 1862.1,1476.7 1866.5,1476.1 1870.9,1476.8 1875.4,1476.4 1879.8,1476.5 1884.2,1476.4 1888.6,1476.4 1893.1,1476.4 1897.5,1476.9 1901.9,1475.9 1906.3,1476.0 1910.8,1476.6 1915.2,1477.1 1919.6,1475.8 1924.0,1476.2 1928.5,1475.9 1932.9,1476.0 1937.3,1476.1 1941.8,1476.7 1946.2,1477.0 1950.6,1476.2 1955.0,1475.8 1959.5,1475.8 1963.9,1475.9 1968.3,1476.6 1972.7,1477.0 1977.2,1476.0 1981.6,1476.7 1986.0,1476.0 1990.4,1476.1 1994.9,1476.7 1999.3,1475.9 2003.7,1476.7 2008.1,1476.9 2012.6,1476.7 2017.0,1476.4 2021.4,1476.6 2025.8,1476.1 2030.3,1476.1 2034.7,1477.3 2039.1,1476.0 2043.6,1476.7 2048.0,1476.1 2052.4,1476.2 2056.8,1475.9 2061.3,1476.0 2065.7,1476.1 2070.1,1476.8 2074.5,1476.2 2079.0,1476.1 2083.4,1476.5 2087.8,1475.8 2092.2,1476.4 2096.7,1475.8 2101.1,1476.2 2105.5,1476.0 2109.9,1476.2 2114.4,1476.5 2118.8,1476.5 2123.2,1475.9 2127.6,1476.0 2132.1,1476.8 2136.5,1476.0 2140.9,1476.0 2145.3,1477.4 2149.8,1475.8 2154.2,1476.1 2158.6,1476.6 2163.1,1475.7 2167.5,1475.7 2171.9,1475.8 2176.3,1476.2 2180.8,1475.9 2185.2,1475.9 2189.6,1476.2 2194.0,1476.3 2198.5,1475.9 2202.9,1476.0 2207.3,1476.6 2211.7,1476.0 2216.2,1475.7 2220.6,1475.7 2225.0,1476.3 2229.4,1476.2 2233.9,1476.0 2238.3,1475.7 2242.7,1475.7 2247.1,1475.8 2251.6,1477.2 2256.0,1475.8 2260.4,1475.8 2264.9,1475.6 2269.3,1475.7 2273.7,1476.3 2278.1,1475.8 2282.6,1475.8 2287.0,1476.1 2291.4,1476.1 2295.8,1475.7 2300.3,1475.8 2304.7,1476.3 2309.1,1476.5" fill="none" stroke="#00a41c" stroke-width="8.40" stroke-linecap="square" stroke-linejoin="round" marker-start="url(#m-green)" marker-mid="url(#m-green)" marker-end="url(#m-green)"/>
<polyline points="1428.3,1034.9 1432.8,1153.2 1437.2,1261.0 1441.6,1342.8 1446.0,1384.5 1450.5,1398.2 1454.9,1405.5 1459.3,1412.4 1463.7,1418.8 1468.2,1426.0 1472.6,1433.2 1477.0,1440.2 1481.5,1445.8 1485.9,1450.3 1490.3,1452.9 1494.7,1456.4 1499.2,1460.2 1503.6,1463.0 1508.0,1465.5 1512.4,1467.5 1516.9,1469.1 1521.3,1470.6 1525.7,1472.0 1530.1,1473.1 1534.6,1473.9 1539.0,1474.3 1543.4,1474.7 1547.8,1475.2 1552.3,1475.2 1556.7,1475.2 1561.1,1475.2 1565.5,1475.2 1570.0,1475.2 1574.4,1475.2 1578.8,1475.2 1583.2,1475.2 1587.7,1475.2 1592.1,1475.2 1596.5,1475.2 1601.0,1475.2 1605.4,1475.2 1609.8,1475.2 1614.2,1475.2 1618.7,1475.2 1623.1,1475.2 1627.5,1475.2 1631.9,1475.2 1636.4,1475.2 1640.8,1475.2 1645.2,1475.2 1649.6,1475.2 1654.1,1475.2 1658.5,1475.2 1662.9,1475.2 1667.3,1475.2 1671.8,1475.2 1676.2,1475.2 1680.6,1475.2 1685.0,1475.2 1689.5,1475.2 1693.9,1475.2 1698.3,1475.2 1702.8,1475.2 1707.2,1475.2 1711.6,1475.2 1716.0,1475.2 1720.5,1475.2 1724.9,1475.2 1729.3,1475.2 1733.7,1475.2 1738.2,1475.2 1742.6,1475.2 1747.0,1475.2 1751.4,1475.2 1755.9,1475.2 1760.3,1475.2 1764.7,1475.2 1769.1,1475.2 1773.6,1475.2 1778.0,1475.2 1782.4,1475.2 1786.8,1475.2 1791.3,1475.2 1795.7,1475.2 1800.1,1475.2 1804.5,1475.2 1809.0,1475.2 1813.4,1475.2 1817.8,1475.2 1822.3,1475.2 1826.7,1475.2 1831.1,1475.2 1835.5,1475.2 1840.0,1475.2 1844.4,1475.2 1848.8,1475.2 1853.2,1475.2 1857.7,1475.2 1862.1,1475.2 1866.5,1475.2 1870.9,1475.2 1875.4,1475.2 1879.8,1475.2 1884.2,1475.2 1888.6,1475.2 1893.1,1475.2 1897.5,1475.2 1901.9,1475.2 1906.3,1475.2 1910.8,1475.2 1915.2,1475.2 1919.6,1475.2 1924.0,1475.2 1928.5,1475.2 1932.9,1475.2 1937.3,1475.2 1941.8,1475.2 1946.2,1475.2 1950.6,1475.2 1955.0,1475.2 1959.5,1475.2 1963.9,1475.2 1968.3,1475.2 1972.7,1475.2 1977.2,1475.2 1981.6,1475.2 1986.0,1475.2 1990.4,1475.2 1994.9,1475.2 1999.3,1475.2 2003.7,1475.2 2008.1,1475.2 2012.6,1475.2 2017.0,1475.2 2021.4,1475.2 2025.8,1475.2 2030.3,1475.2 2034.7,1475.2 2039.1,1475.2 2043.6,1475.2 2048.0,1475.2 2052.4,1475.2 2056.8,1475.2 2061.3,1475.2 2065.7,1475.2 2070.1,1475.2 2074.5,1475.2 2079.0,1475.2 2083.4,1475.2 2087.8,1475.2 2092.2,1475.2 2096.7,1475.2 2101.1,1475.2 2105.5,1475.2 2109.9,1475.2 2114.4,1475.2 2118.8,1475.2 2123.2,1475.2 2127.6,1475.2 2132.1,1475.2 2136.5,1475.2 2140.9,1475.2 2145.3,1475.2 2149.8,1475.2 2154.2,1475.2 2158.6,1475.2 2163.1,1475.2 2167.5,1475.2 2171.9,1475.2 2176.3,1475.2 2180.8,1475.2 2185.2,1475.2 2189.6,1475.2 2194.0,1475.2 2198.5,1475.2 2202.9,1475.2 2207.3,1475.2 2211.7,1475.2 2216.2,1475.2 2220.6,1475.2 2225.0,1475.2 2229.4,1475.2 2233.9,1475.2 2238.3,1475.2 2242.7,1475.2 2247.1,1475.2 2251.6,1475.2 2256.0,1475.2 2260.4,1475.2 2264.9,1475.2 2269.3,1475.2 2273.7,1475.2 2278.1,1475.2 2282.6,1475.2 2287.0,1475.2 2291.4,1475.2 2295.8,1475.2 2300.3,1475.2 2304.7,1475.2 2309.1,1475.2" fill="none" stroke="#f72024" stroke-width="8.40" stroke-linecap="square" stroke-linejoin="round" marker-start="url(#m-red)" marker-mid="url(#m-red)" marker-end="url(#m-red)"/>
<polyline points="1428.3,1434.7 1432.8,1437.0 1437.2,1437.8 1441.6,1437.6 1446.0,1438.1 1450.5,1438.4 1454.9,1439.6 1459.3,1437.9 1463.7,1441.0 1468.2,1441.2 1472.6,1442.6 1477.0,1443.8 1481.5,1443.9 1485.9,1443.4 1490.3,1446.5 1494.7,1448.4 1499.2,1447.7 1503.6,1446.3 1508.0,1448.9 1512.4,1448.1 1516.9,1447.3 1521.3,1448.9 1525.7,1452.6 1530.1,1450.5 1534.6,1452.3 1539.0,1452.4 1543.4,1454.1 1547.8,1453.1 1552.3,1452.8 1556.7,1454.7 1561.1,1456.1 1565.5,1456.3 1570.0,1453.4 1574.4,1456.0 1578.8,1457.0 1583.2,1455.7 1587.7,1457.8 1592.1,1457.8 1596.5,1459.1 1601.0,1457.8 1605.4,1458.6 1609.8,1457.5 1614.2,1459.7 1618.7,1460.6 1623.1,1461.7 1627.5,1460.3 1631.9,1462.2 1636.4,1461.9 1640.8,1462.9 1645.2,1461.0 1649.6,1464.3 1654.1,1465.4 1658.5,1463.8 1662.9,1464.4 1667.3,1464.8 1671.8,1463.6 1676.2,1464.0 1680.6,1464.4 1685.0,1463.1 1689.5,1466.1 1693.9,1465.1 1698.3,1466.0 1702.8,1465.8 1707.2,1467.4 1711.6,1466.7 1716.0,1466.5 1720.5,1466.5 1724.9,1467.2 1729.3,1467.8 1733.7,1467.0 1738.2,1466.9 1742.6,1468.4 1747.0,1467.7 1751.4,1467.7 1755.9,1467.8 1760.3,1468.7 1764.7,1468.1 1769.1,1468.3 1773.6,1468.6 1778.0,1468.2 1782.4,1468.3 1786.8,1469.0 1791.3,1468.4 1795.7,1469.7 1800.1,1468.6 1804.5,1470.0 1809.0,1469.0 1813.4,1470.1 1817.8,1469.5 1822.3,1469.4 1826.7,1470.1 1831.1,1469.6 1835.5,1470.4 1840.0,1470.3 1844.4,1470.1 1848.8,1470.1 1853.2,1470.1 1857.7,1470.1 1862.1,1469.3 1866.5,1470.1 1870.9,1470.5 1875.4,1470.6 1879.8,1470.7 1884.2,1470.6 1888.6,1471.1 1893.1,1470.2 1897.5,1470.8 1901.9,1471.4 1906.3,1471.4 1910.8,1470.8 1915.2,1471.1 1919.6,1471.6 1924.0,1471.7 1928.5,1471.8 1932.9,1471.3 1937.3,1471.7 1941.8,1472.3 1946.2,1471.5 1950.6,1472.8 1955.0,1472.1 1959.5,1471.3 1963.9,1471.7 1968.3,1473.0 1972.7,1472.4 1977.2,1472.6 1981.6,1471.9 1986.0,1472.2 1990.4,1471.8 1994.9,1472.2 1999.3,1472.3 2003.7,1473.0 2008.1,1472.9 2012.6,1472.9 2017.0,1473.4 2021.4,1472.3 2025.8,1472.8 2030.3,1473.8 2034.7,1472.7 2039.1,1473.5 2043.6,1472.9 2048.0,1473.5 2052.4,1473.7 2056.8,1473.7 2061.3,1474.0 2065.7,1473.6 2070.1,1474.1 2074.5,1473.2 2079.0,1473.8 2083.4,1473.6 2087.8,1473.3 2092.2,1474.0 2096.7,1474.2 2101.1,1472.9 2105.5,1474.4 2109.9,1474.0 2114.4,1473.5 2118.8,1473.5 2123.2,1473.9 2127.6,1474.3 2132.1,1473.3 2136.5,1473.5 2140.9,1473.9 2145.3,1473.9 2149.8,1473.5 2154.2,1473.4 2158.6,1473.9 2163.1,1473.9 2167.5,1473.7 2171.9,1475.0 2176.3,1473.4 2180.8,1474.6 2185.2,1474.2 2189.6,1473.9 2194.0,1474.2 2198.5,1473.7 2202.9,1473.4 2207.3,1474.2 2211.7,1474.0 2216.2,1474.1 2220.6,1473.9" fill="none" stroke="#a066c3" stroke-width="8.40" stroke-linecap="square" stroke-linejoin="round" marker-start="url(#m-purple)" marker-mid="url(#m-purple)" marker-end="url(#m-purple)"/>
<polyline points="1428.3,1324.6 1432.8,1329.6 1437.2,1335.1 1441.6,1333.0 1446.0,1330.7 1450.5,1334.6 1454.9,1338.0 1459.3,1333.6 1463.7,1327.5 1468.2,1333.0 1472.6,1339.3 1477.0,1346.7 1481.5,1347.5 1485.9,1346.9 1490.3,1343.6 1494.7,1339.0 1499.2,1346.2 1503.6,1348.9 1508.0,1348.7 1512.4,1357.6 1516.9,1356.9 1521.3,1355.2 1525.7,1352.7 1530.1,1351.9 1534.6,1352.9 1539.0,1353.8 1543.4,1357.6 1547.8,1359.4 1552.3,1360.7 1556.7,1363.9 1561.1,1365.6 1565.5,1365.9 1570.0,1364.5 1574.4,1361.6 1578.8,1361.4 1583.2,1360.5 1587.7,1366.1 1592.1,1371.3 1596.5,1375.1 1601.0,1372.6 1605.4,1368.8 1609.8,1366.0 1614.2,1367.7 1618.7,1370.7 1623.1,1373.1 1627.5,1371.0 1631.9,1372.5 1636.4,1374.1 1640.8,1377.0 1645.2,1374.9 1649.6,1373.7 1654.1,1379.4 1658.5,1384.7 1662.9,1382.0 1667.3,1380.5 1671.8,1377.2 1676.2,1380.7 1680.6,1384.4 1685.0,1387.4 1689.5,1389.1 1693.9,1386.5 1698.3,1377.8 1702.8,1384.0 1707.2,1386.6 1711.6,1386.2 1716.0,1384.1 1720.5,1387.2 1724.9,1390.1 1729.3,1390.4 1733.7,1392.4 1738.2,1393.2 1742.6,1393.0 1747.0,1394.4 1751.4,1392.9 1755.9,1393.8 1760.3,1396.7 1764.7,1398.0 1769.1,1395.0 1773.6,1396.5 1778.0,1396.3 1782.4,1398.4 1786.8,1399.6 1791.3,1401.3 1795.7,1403.7 1800.1,1405.6 1804.5,1404.3 1809.0,1402.4 1813.4,1404.3 1817.8,1406.3 1822.3,1408.4 1826.7,1407.7 1831.1,1407.1 1835.5,1406.8 1840.0,1405.1 1844.4,1405.4 1848.8,1405.4 1853.2,1402.7 1857.7,1403.0 1862.1,1404.4 1866.5,1403.6 1870.9,1404.9 1875.4,1405.6 1879.8,1406.4 1884.2,1405.3 1888.6,1407.2 1893.1,1410.8 1897.5,1408.5 1901.9,1407.0 1906.3,1409.4 1910.8,1409.4 1915.2,1410.9 1919.6,1411.9 1924.0,1413.5 1928.5,1413.3 1932.9,1414.6 1937.3,1416.4 1941.8,1418.0 1946.2,1417.6 1950.6,1419.3 1955.0,1421.0 1959.5,1420.5 1963.9,1420.9 1968.3,1421.3 1972.7,1422.4 1977.2,1426.1 1981.6,1429.7 1986.0,1430.2 1990.4,1429.7 1994.9,1431.6 1999.3,1432.6 2003.7,1432.9 2008.1,1432.1 2012.6,1432.9 2017.0,1433.8 2021.4,1434.9 2025.8,1435.0 2030.3,1434.8 2034.7,1435.7 2039.1,1434.7 2043.6,1435.8 2048.0,1437.9 2052.4,1439.3 2056.8,1438.7 2061.3,1441.4 2065.7,1440.4 2070.1,1441.1 2074.5,1440.1 2079.0,1441.0 2083.4,1441.2 2087.8,1443.1 2092.2,1444.2 2096.7,1442.9 2101.1,1441.7 2105.5,1444.1 2109.9,1441.5 2114.4,1441.8 2118.8,1441.9 2123.2,1444.8 2127.6,1446.8 2132.1,1443.0 2136.5,1442.3 2140.9,1443.7 2145.3,1443.8 2149.8,1444.6 2154.2,1444.2 2158.6,1443.7 2163.1,1443.9 2167.5,1444.3 2171.9,1445.6 2176.3,1447.9 2180.8,1447.9 2185.2,1448.0 2189.6,1448.7 2194.0,1447.9 2198.5,1446.9 2202.9,1446.7 2207.3,1449.0 2211.7,1449.6 2216.2,1448.1 2220.6,1446.4" fill="none" stroke="#96544a" stroke-width="8.40" stroke-linecap="square" stroke-linejoin="round"/>
<rect x="1384.45" y="918.30" width="968.85" height="658.10" fill="none" stroke="#000" stroke-width="2.24"/>
<path d="M1428.34 1576.40v9.80M1649.64 1576.40v9.80M1870.94 1576.40v9.80M2092.24 1576.40v9.80M2313.54 1576.40v9.80M1384.45 1576.40h-9.80M1384.45 1475.15h-9.80M1384.45 1373.91h-9.80M1384.45 1272.66h-9.80M1384.45 1171.42h-9.80M1384.45 1070.17h-9.80M1384.45 968.92h-9.80" stroke="#000" stroke-width="2.24" fill="none"/>
<g font-size="56" text-anchor="middle">
<text x="1428.3" y="1634.7">0</text>
<text x="1649.6" y="1634.7">50</text>
<text x="1870.9" y="1634.7">100</text>
<text x="2092.2" y="1634.7">150</text>
<text x="2313.5" y="1634.7">200</text>
</g>
<g font-size="56" text-anchor="end">
<text x="1364.7" y="1596.0">-0.1</text>
<text x="1364.7" y="1494.8">0.0</text>
<text x="1364.7" y="1393.5">0.1</text>
<text x="1364.7" y="1292.3">0.2</text>
<text x="1364.7" y="1191.0">0.3</text>
<text x="1364.7" y="1089.8">0.4</text>
<text x="1364.7" y="988.5">0.5</text>
</g>
<text x="1868.9" y="1696.7" font-size="56" text-anchor="middle">Training times</text>
<text x="1868.5" y="1754.8" font-size="56" text-anchor="middle">(d)</text>
<text transform="translate(1254.2 1247.8) rotate(-90)" font-size="56" text-anchor="middle">Loss</text>
<rect x="1767.8" y="937.8" width="565.9" height="343.7" rx="7.8" ry="7.8" fill="#fff" fill-opacity="0.8" stroke="#ccc" stroke-opacity="0.8" stroke-width="2.80"/>
<line x1="1783.5" y1="967.2" x2="1861.9" y2="967.2" stroke="#0573b6" stroke-width="8.40" stroke-linecap="square"/>
<circle cx="1822.7" cy="967.2" r="8.40" fill="#0573b6" stroke="#0573b6" stroke-width="2.80"/>
<text x="1893.3" y="980.9" font-size="39.2">outer DDPG-actor-loss</text>
<line x1="1783.5" y1="1022.6" x2="1861.9" y2="1022.6" stroke="#ff7f00" stroke-width="8.40" stroke-linecap="square"/>
<text x="1893.3" y="1036.3" font-size="39.2">outer DDPG-critic-loss</text>
<line x1="1783.5" y1="1077.9" x2="1861.9" y2="1077.9" stroke="#00a41c" stroke-width="8.40" stroke-linecap="square"/>
<polygon points="1822.70,1069.52 1814.30,1086.32 1831.10,1086.32" fill="#00a41c" stroke="#00a41c" stroke-width="2.80"/>
<text x="1893.3" y="1091.6" font-size="39.2">inner MADDPG-actor-loss</text>
<line x1="1783.5" y1="1133.3" x2="1861.9" y2="1133.3" stroke="#f72024" stroke-width="8.40" stroke-linecap="square"/>
<circle cx="1822.7" cy="1133.3" r="8.40" fill="#f72024" stroke="#f72024" stroke-width="2.80"/>
<text x="1893.3" y="1147.0" font-size="39.2">inner MADDPG-critc-loss</text>
<line x1="1783.5" y1="1188.6" x2="1861.9" y2="1188.6" stroke="#a066c3" stroke-width="8.40" stroke-linecap="square"/>
<polygon points="1822.70,1180.24 1814.30,1197.04 1831.10,1197.04" fill="#a066c3" stroke="#a066c3" stroke-width="2.80"/>
<text x="1893.3" y="1202.3" font-size="39.2">outer DQN-loss</text>
<line x1="1783.5" y1="1244.0" x2="1861.9" y2="1244.0" stroke="#96544a" stroke-width="8.40" stroke-linecap="square"/>
<text x="1893.3" y="1257.7" font-size="39.2">inner MADQN-loss</text>
</g>
</svg></body></html>
